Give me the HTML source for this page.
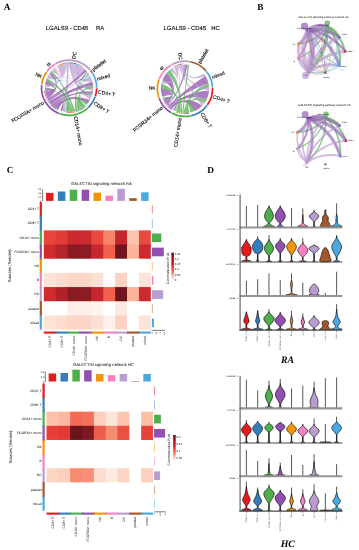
<!DOCTYPE html>
<html><head><meta charset="utf-8"><title>Figure</title>
<style>
html,body{margin:0;padding:0;background:#fff;}
body{width:359px;height:550px;overflow:hidden;position:relative;font-family:"Liberation Sans",sans-serif;}
svg{position:absolute;left:0;top:0;}
svg{text-rendering:geometricPrecision;}
svg text{font-family:"Liberation Sans",sans-serif;fill:#000;}
#panelA text{stroke:#000;stroke-width:0.1px;}
svg text.pl{font-family:"Liberation Serif",serif;font-weight:bold;fill:#000;}
svg text.gl{font-family:"Liberation Serif",serif;font-weight:bold;font-style:italic;fill:#000;}
</style></head><body>
<svg width="359" height="550" viewBox="0 0 359 550">
<rect width="359" height="550" fill="#fff"/>
<text class="pl" x="3.7" y="9.8" font-size="9.3">A</text>
<text class="pl" x="257.2" y="9.8" font-size="9.3">B</text>
<text class="pl" x="6.7" y="173" font-size="9.3">C</text>
<text class="pl" x="207.3" y="172.9" font-size="9.3">D</text>
<g id="panelA">
<text x="45.8" y="30.2" font-size="5.9">LGALS9 - CD45</text><text x="95.9" y="30.2" font-size="5.9">RA</text>
<text x="163.6" y="30.2" font-size="5.9">LGALS9 - CD45</text><text x="211.3" y="30.2" font-size="5.9">HC</text>
<path d="M60.24,65.28A24.20,24.20 0 0 1 64.57,64.03Q65.77,83.60 46.99,77.97A24.20,24.20 0 0 1 49.07,74.23Q65.49,83.29 60.24,65.28Z" fill="#b99dd0" fill-opacity="0.74"/>
<path d="M46.48,96.39A24.20,24.20 0 0 1 45.37,92.53Q63.13,88.01 45.10,84.73A24.20,24.20 0 0 1 46.01,80.54Q63.39,87.97 46.48,96.39Z" fill="#9150b0" fill-opacity="0.74"/>
<path d="M68.91,63.60A24.20,24.20 0 0 1 73.26,63.96Q72.46,85.85 91.84,96.08A24.20,24.20 0 0 1 90.10,99.82Q71.70,86.28 68.91,63.60Z" fill="#b99dd0" fill-opacity="0.74"/>
<path d="M75.99,64.60A24.20,24.20 0 0 1 80.04,66.21Q73.21,83.83 91.06,77.64A24.20,24.20 0 0 1 92.43,81.38Q72.88,84.10 75.99,64.60Z" fill="#b99dd0" fill-opacity="0.74"/>
<path d="M56.48,108.45A24.20,24.20 0 0 1 53.34,106.17Q69.74,91.62 89.99,100.02A24.20,24.20 0 0 1 87.61,103.39Q69.84,92.33 56.48,108.45Z" fill="#9150b0" fill-opacity="0.74"/>
<path d="M51.53,104.45A24.20,24.20 0 0 1 49.10,101.42Q69.52,88.73 92.49,81.60A24.20,24.20 0 0 1 93.19,85.52Q69.92,89.60 51.53,104.45Z" fill="#9150b0" fill-opacity="0.74"/>
<path d="M57.55,66.53A24.20,24.20 0 0 1 60.24,65.28Q65.87,82.83 52.12,70.56A24.20,24.20 0 0 1 53.93,68.95Q65.76,82.79 57.55,66.53Z" fill="#b99dd0" fill-opacity="0.74"/>
<path d="M47.54,98.80A24.20,24.20 0 0 1 46.48,96.39Q63.82,87.10 49.52,73.58A24.20,24.20 0 0 1 51.04,71.69Q64.15,87.16 47.54,98.80Z" fill="#9150b0" fill-opacity="0.74"/>
<path d="M73.26,63.96A24.20,24.20 0 0 1 75.99,64.60Q72.98,84.99 93.29,88.53A24.20,24.20 0 0 1 93.08,91.09Q72.62,85.23 73.26,63.96Z" fill="#b99dd0" fill-opacity="0.74"/>
<path d="M53.34,106.17A24.20,24.20 0 0 1 51.53,104.45Q69.90,90.31 93.06,91.23A24.20,24.20 0 0 1 92.56,93.75Q70.06,90.84 53.34,106.17Z" fill="#9150b0" fill-opacity="0.74"/>
<path d="M73.26,111.64A24.20,24.20 0 0 1 69.87,111.99Q66.31,89.92 46.01,80.54A24.20,24.20 0 0 1 46.86,78.25Q66.84,89.59 73.26,111.64Z" fill="#4daf4a" fill-opacity="0.74"/>
<path d="M85.29,105.78A24.20,24.20 0 0 1 82.70,107.82Q73.11,92.25 87.61,103.39A24.20,24.20 0 0 1 86.00,105.12Q73.24,92.21 85.29,105.78Z" fill="#4daf4a" fill-opacity="0.74"/>
<path d="M80.89,108.93A24.20,24.20 0 0 1 77.91,110.34Q73.21,90.33 93.19,85.52A24.20,24.20 0 0 1 93.30,87.80Q73.60,90.44 80.89,108.93Z" fill="#4daf4a" fill-opacity="0.74"/>
<path d="M66.58,63.73A24.20,24.20 0 0 1 68.91,63.60Q68.55,87.75 64.92,111.64A24.20,24.20 0 0 1 62.71,111.14Q67.99,87.71 66.58,63.73Z" fill="#b99dd0" fill-opacity="0.74"/>
<path d="M81.00,66.73A24.20,24.20 0 0 1 82.98,67.98Q72.59,82.86 83.15,68.10A24.20,24.20 0 0 1 84.94,69.50Q72.57,82.88 81.00,66.73Z" fill="#b99dd0" fill-opacity="0.74"/>
<path d="M58.30,109.46A24.20,24.20 0 0 1 56.48,108.45Q66.71,93.29 62.58,111.11A24.20,24.20 0 0 1 60.43,110.39Q66.67,93.33 58.30,109.46Z" fill="#9150b0" fill-opacity="0.74"/>
<path d="M48.57,100.61A24.20,24.20 0 0 1 47.54,98.80Q68.40,86.90 85.03,69.59A24.20,24.20 0 0 1 86.67,71.16Q68.73,87.32 48.57,100.61Z" fill="#9150b0" fill-opacity="0.74"/>
<path d="M64.57,64.03A24.20,24.20 0 0 1 66.58,63.73Q65.76,84.73 44.90,87.33A24.20,24.20 0 0 1 45.02,85.38Q65.52,84.53 64.57,64.03Z" fill="#b99dd0" fill-opacity="0.74"/>
<path d="M45.37,92.53A24.20,24.20 0 0 1 45.08,90.75Q63.09,88.51 45.06,90.54A24.20,24.20 0 0 1 44.91,88.59Q63.11,88.49 45.37,92.53Z" fill="#9150b0" fill-opacity="0.74"/>
<path d="M75.45,111.15A24.20,24.20 0 0 1 73.26,111.64Q67.36,88.77 51.04,71.69A24.20,24.20 0 0 1 51.99,70.68Q67.76,88.58 75.45,111.15Z" fill="#4daf4a" fill-opacity="0.74"/>
<path d="M82.70,107.82A24.20,24.20 0 0 1 80.89,108.93Q73.51,91.19 92.56,93.75A24.20,24.20 0 0 1 92.15,95.16Q73.68,91.22 82.70,107.82Z" fill="#4daf4a" fill-opacity="0.74"/>
<path d="M77.14,110.63A24.20,24.20 0 0 1 75.45,111.15Q72.09,88.64 86.67,71.16A24.20,24.20 0 0 1 87.53,72.12Q72.41,88.69 77.14,110.63Z" fill="#4daf4a" fill-opacity="0.74"/>
<path d="M68.33,111.99A24.20,24.20 0 0 1 66.57,111.87Q68.44,93.81 66.36,111.84A24.20,24.20 0 0 1 65.08,111.66Q68.50,93.81 68.33,111.99Z" fill="#4daf4a" fill-opacity="0.74"/>
<path d="M69.87,111.99A24.20,24.20 0 0 1 68.33,111.99Q65.98,90.92 44.91,88.59A24.20,24.20 0 0 1 44.90,87.47Q66.17,90.78 69.87,111.99Z" fill="#4daf4a" fill-opacity="0.74"/>
<path d="M80.04,66.21A24.20,24.20 0 0 1 81.00,66.73Q72.95,83.27 87.99,72.67A24.20,24.20 0 0 1 88.50,73.34Q72.89,83.29 80.04,66.21Z" fill="#b99dd0" fill-opacity="0.74"/>
<path d="M49.10,101.42A24.20,24.20 0 0 1 48.57,100.61Q68.96,87.60 88.53,73.38A24.20,24.20 0 0 1 89.02,74.06Q69.09,87.79 49.10,101.42Z" fill="#9150b0" fill-opacity="0.74"/>
<path d="M77.91,110.34A24.20,24.20 0 0 1 77.14,110.63Q72.59,88.94 89.02,74.06A24.20,24.20 0 0 1 89.29,74.46Q72.73,88.95 77.91,110.34Z" fill="#4daf4a" fill-opacity="0.74"/>
<path d="M90.18,75.91A24.20,24.20 0 0 1 90.33,76.19Q68.97,85.15 46.86,78.25A24.20,24.20 0 0 1 46.99,77.97Q68.97,85.08 90.18,75.91Z" fill="#4ca9e0" fill-opacity="0.74"/>
<path d="M90.48,76.46A24.20,24.20 0 0 1 90.62,76.74Q74.65,87.42 91.94,95.80A24.20,24.20 0 0 1 91.84,96.08Q74.62,87.42 90.48,76.46Z" fill="#4ca9e0" fill-opacity="0.74"/>
<path d="M90.71,76.91A24.20,24.20 0 0 1 90.85,77.19Q74.55,85.17 90.94,77.38A24.20,24.20 0 0 1 91.06,77.64Q74.55,85.17 90.71,76.91Z" fill="#4ca9e0" fill-opacity="0.74"/>
<path d="M54.35,68.62A24.20,24.20 0 0 1 54.58,68.44Q64.78,83.68 49.07,74.23A24.20,24.20 0 0 1 49.20,74.02Q64.77,83.68 54.35,68.62Z" fill="#f781bf" fill-opacity="0.74"/>
<path d="M54.80,68.28A24.20,24.20 0 0 1 55.02,68.12Q69.97,86.84 90.10,99.82A24.20,24.20 0 0 1 89.99,100.02Q69.92,86.89 54.80,68.28Z" fill="#f781bf" fill-opacity="0.74"/>
<path d="M55.16,68.02A24.20,24.20 0 0 1 55.39,67.86Q70.30,84.51 92.43,81.38A24.20,24.20 0 0 1 92.49,81.60Q70.28,84.55 55.16,68.02Z" fill="#f781bf" fill-opacity="0.74"/>
<path d="M90.07,75.73A24.20,24.20 0 0 1 90.18,75.91Q69.60,84.17 51.99,70.68A24.20,24.20 0 0 1 52.12,70.56Q69.60,84.14 90.07,75.73Z" fill="#4ca9e0" fill-opacity="0.74"/>
<path d="M90.62,76.74A24.20,24.20 0 0 1 90.71,76.91Q74.83,86.51 93.29,88.35A24.20,24.20 0 0 1 93.29,88.53Q74.81,86.51 90.62,76.74Z" fill="#4ca9e0" fill-opacity="0.74"/>
<path d="M54.20,68.73A24.20,24.20 0 0 1 54.35,68.62Q65.36,83.05 53.93,68.95A24.20,24.20 0 0 1 54.04,68.86Q65.35,83.05 54.20,68.73Z" fill="#f781bf" fill-opacity="0.74"/>
<path d="M89.99,75.58A24.20,24.20 0 0 1 90.07,75.73Q74.03,84.33 87.53,72.12A24.20,24.20 0 0 1 87.64,72.24Q74.03,84.33 89.99,75.58Z" fill="#4ca9e0" fill-opacity="0.74"/>
<path d="M90.40,76.32A24.20,24.20 0 0 1 90.48,76.46Q71.27,89.37 65.08,111.66A24.20,24.20 0 0 1 64.92,111.64Q71.24,89.34 90.40,76.32Z" fill="#4ca9e0" fill-opacity="0.74"/>
<path d="M55.02,68.12A24.20,24.20 0 0 1 55.16,68.02Q70.35,85.74 93.08,91.09A24.20,24.20 0 0 1 93.06,91.23Q70.33,85.77 55.02,68.12Z" fill="#f781bf" fill-opacity="0.74"/>
<path d="M90.33,76.19A24.20,24.20 0 0 1 90.40,76.32Q68.74,86.32 44.90,87.47A24.20,24.20 0 0 1 44.90,87.33Q68.73,86.29 90.33,76.19Z" fill="#4ca9e0" fill-opacity="0.74"/>
<path d="M54.68,68.37A24.20,24.20 0 0 1 54.80,68.28Q66.51,88.28 62.71,111.14A24.20,24.20 0 0 1 62.58,111.11Q66.48,88.28 54.68,68.37Z" fill="#f781bf" fill-opacity="0.74"/>
<path d="M55.45,67.82A24.20,24.20 0 0 1 55.57,67.74Q69.39,83.00 84.94,69.50A24.20,24.20 0 0 1 85.03,69.59Q69.38,83.03 55.45,67.82Z" fill="#f781bf" fill-opacity="0.74"/>
<path d="M54.58,68.44A24.20,24.20 0 0 1 54.68,68.37Q64.29,85.07 45.02,85.38A24.20,24.20 0 0 1 45.03,85.27Q64.28,85.06 54.58,68.44Z" fill="#f781bf" fill-opacity="0.74"/>
<path d="M89.95,75.52A24.20,24.20 0 0 1 89.99,75.58Q74.24,84.61 89.29,74.46A24.20,24.20 0 0 1 89.33,74.51Q74.23,84.60 89.95,75.52Z" fill="#4ca9e0" fill-opacity="0.74"/>
<path d="M55.39,67.86A24.20,24.20 0 0 1 55.45,67.82Q69.82,83.49 88.50,73.34A24.20,24.20 0 0 1 88.53,73.38Q69.82,83.50 55.39,67.86Z" fill="#f781bf" fill-opacity="0.74"/>
<path d="M57.36,65.90A24.85,24.85 0 0 1 59.88,64.72" fill="none" stroke="#f781bf" stroke-width="1.0"/>
<path d="M60.12,64.63A24.85,24.85 0 0 1 64.32,63.41" fill="none" stroke="#f29403" stroke-width="1.0"/>
<path d="M64.58,63.36A24.85,24.85 0 0 1 66.38,63.10" fill="none" stroke="#9150b0" stroke-width="1.0"/>
<path d="M66.64,63.07A24.85,24.85 0 0 1 68.78,62.95" fill="none" stroke="#4daf4a" stroke-width="1.0"/>
<path d="M69.04,62.95A24.85,24.85 0 0 1 73.24,63.30" fill="none" stroke="#377eb8" stroke-width="1.0"/>
<path d="M73.50,63.34A24.85,24.85 0 0 1 76.05,63.94" fill="none" stroke="#e41a1c" stroke-width="1.0"/>
<path d="M76.30,64.02A24.85,24.85 0 0 1 80.22,65.58" fill="none" stroke="#4ca9e0" stroke-width="1.0"/>
<path d="M80.45,65.69A24.85,24.85 0 0 1 81.21,66.10" fill="none" stroke="#a65628" stroke-width="1.0"/>
<path d="M81.44,66.23A24.85,24.85 0 0 1 83.25,67.37" fill="none" stroke="#b99dd0" stroke-width="1.0"/>
<path d="M57.90,109.98A24.85,24.85 0 0 1 56.25,109.07" fill="none" stroke="#4daf4a" stroke-width="1.0"/>
<path d="M56.03,108.94A24.85,24.85 0 0 1 53.02,106.75" fill="none" stroke="#377eb8" stroke-width="1.0"/>
<path d="M52.82,106.58A24.85,24.85 0 0 1 51.15,104.99" fill="none" stroke="#e41a1c" stroke-width="1.0"/>
<path d="M50.97,104.80A24.85,24.85 0 0 1 48.64,101.90" fill="none" stroke="#4ca9e0" stroke-width="1.0"/>
<path d="M48.49,101.68A24.85,24.85 0 0 1 48.09,101.07" fill="none" stroke="#a65628" stroke-width="1.0"/>
<path d="M47.95,100.85A24.85,24.85 0 0 1 47.03,99.21" fill="none" stroke="#b99dd0" stroke-width="1.0"/>
<path d="M46.91,98.98A24.85,24.85 0 0 1 45.92,96.74" fill="none" stroke="#f781bf" stroke-width="1.0"/>
<path d="M45.82,96.50A24.85,24.85 0 0 1 44.75,92.78" fill="none" stroke="#f29403" stroke-width="1.0"/>
<path d="M44.70,92.53A24.85,24.85 0 0 1 44.45,90.96" fill="none" stroke="#9150b0" stroke-width="1.0"/>
<path d="M85.63,106.35A24.85,24.85 0 0 1 83.17,108.28" fill="none" stroke="#377eb8" stroke-width="1.0"/>
<path d="M82.95,108.43A24.85,24.85 0 0 1 81.32,109.44" fill="none" stroke="#e41a1c" stroke-width="1.0"/>
<path d="M81.10,109.56A24.85,24.85 0 0 1 78.27,110.90" fill="none" stroke="#4ca9e0" stroke-width="1.0"/>
<path d="M78.03,110.99A24.85,24.85 0 0 1 77.47,111.20" fill="none" stroke="#a65628" stroke-width="1.0"/>
<path d="M77.23,111.28A24.85,24.85 0 0 1 75.74,111.75" fill="none" stroke="#b99dd0" stroke-width="1.0"/>
<path d="M75.49,111.81A24.85,24.85 0 0 1 73.50,112.26" fill="none" stroke="#f781bf" stroke-width="1.0"/>
<path d="M73.25,112.30A24.85,24.85 0 0 1 70.02,112.63" fill="none" stroke="#f29403" stroke-width="1.0"/>
<path d="M69.76,112.64A24.85,24.85 0 0 1 68.44,112.64" fill="none" stroke="#9150b0" stroke-width="1.0"/>
<path d="M68.18,112.63A24.85,24.85 0 0 1 66.63,112.53" fill="none" stroke="#4daf4a" stroke-width="1.0"/>
<path d="M53.90,68.14A24.85,24.85 0 0 1 53.91,68.14" fill="none" stroke="#f781bf" stroke-width="1.0"/>
<path d="M54.06,68.02A24.85,24.85 0 0 1 54.08,68.00" fill="none" stroke="#f29403" stroke-width="1.0"/>
<path d="M54.29,67.85A24.85,24.85 0 0 1 54.29,67.84" fill="none" stroke="#9150b0" stroke-width="1.0"/>
<path d="M54.39,67.77A24.85,24.85 0 0 1 54.40,67.77" fill="none" stroke="#4daf4a" stroke-width="1.0"/>
<path d="M54.52,67.68A24.85,24.85 0 0 1 54.54,67.67" fill="none" stroke="#377eb8" stroke-width="1.0"/>
<path d="M54.75,67.51A24.85,24.85 0 0 1 54.75,67.51" fill="none" stroke="#e41a1c" stroke-width="1.0"/>
<path d="M54.90,67.41A24.85,24.85 0 0 1 54.91,67.40" fill="none" stroke="#4ca9e0" stroke-width="1.0"/>
<path d="M55.13,67.25A24.85,24.85 0 0 1 55.13,67.25" fill="none" stroke="#a65628" stroke-width="1.0"/>
<path d="M55.19,67.21A24.85,24.85 0 0 1 55.19,67.21" fill="none" stroke="#b99dd0" stroke-width="1.0"/>
<path d="M90.58,75.30A24.85,24.85 0 0 1 90.58,75.30" fill="none" stroke="#a65628" stroke-width="1.0"/>
<path d="M90.62,75.37A24.85,24.85 0 0 1 90.62,75.37" fill="none" stroke="#b99dd0" stroke-width="1.0"/>
<path d="M90.70,75.52A24.85,24.85 0 0 1 90.70,75.52" fill="none" stroke="#f781bf" stroke-width="1.0"/>
<path d="M90.81,75.70A24.85,24.85 0 0 1 90.84,75.76" fill="none" stroke="#f29403" stroke-width="1.0"/>
<path d="M90.97,75.99A24.85,24.85 0 0 1 90.97,76.00" fill="none" stroke="#9150b0" stroke-width="1.0"/>
<path d="M91.04,76.12A24.85,24.85 0 0 1 91.04,76.13" fill="none" stroke="#4daf4a" stroke-width="1.0"/>
<path d="M91.11,76.27A24.85,24.85 0 0 1 91.14,76.32" fill="none" stroke="#377eb8" stroke-width="1.0"/>
<path d="M91.26,76.56A24.85,24.85 0 0 1 91.26,76.56" fill="none" stroke="#e41a1c" stroke-width="1.0"/>
<path d="M91.35,76.74A24.85,24.85 0 0 1 91.38,76.79" fill="none" stroke="#4ca9e0" stroke-width="1.0"/>
<path d="M55.51,63.78A27.60,27.60 0 0 1 90.24,70.06" fill="none" stroke="#b99dd0" stroke-width="1.7"/>
<path d="M90.55,70.43A27.60,27.60 0 0 1 92.25,72.77" fill="none" stroke="#a65628" stroke-width="1.7"/>
<path d="M92.51,73.17A27.60,27.60 0 0 1 96.70,87.80" fill="none" stroke="#4ca9e0" stroke-width="1.7"/>
<path d="M96.70,88.28A27.60,27.60 0 0 1 95.35,96.33" fill="none" stroke="#e41a1c" stroke-width="1.7"/>
<path d="M95.20,96.79A27.60,27.60 0 0 1 88.27,107.65" fill="none" stroke="#377eb8" stroke-width="1.7"/>
<path d="M87.92,107.99A27.60,27.60 0 0 1 59.21,113.57" fill="none" stroke="#4daf4a" stroke-width="1.7"/>
<path d="M58.76,113.39A27.60,27.60 0 0 1 41.65,84.92" fill="none" stroke="#9150b0" stroke-width="1.7"/>
<path d="M41.71,84.44A27.60,27.60 0 0 1 46.49,71.97" fill="none" stroke="#f29403" stroke-width="1.7"/>
<path d="M46.77,71.58A27.60,27.60 0 0 1 55.09,64.02" fill="none" stroke="#f781bf" stroke-width="1.7"/>
<text x="74.31" y="58.97" font-size="5.0" text-anchor="start" dominant-baseline="central" transform="rotate(-79.8 74.31 58.97)">DC</text>
<text x="92.80" y="70.58" font-size="5.0" text-anchor="start" dominant-baseline="central" transform="rotate(-36.0 92.80 70.58)">platelet</text>
<text x="97.26" y="79.72" font-size="5.0" text-anchor="start" dominant-baseline="central" transform="rotate(-16.0 97.26 79.72)">mixed</text>
<text x="98.00" y="92.64" font-size="5.0" text-anchor="start" dominant-baseline="central" transform="rotate(9.5 98.00 92.64)">CD4+ T</text>
<text x="93.81" y="103.54" font-size="5.0" text-anchor="start" dominant-baseline="central" transform="rotate(32.5 93.81 103.54)">CD8+ T</text>
<text x="74.69" y="116.56" font-size="5.0" text-anchor="start" dominant-baseline="central" transform="rotate(79.0 74.69 116.56)">CD14+ mono</text>
<text x="43.98" y="102.89" font-size="5.0" text-anchor="end" dominant-baseline="central" transform="rotate(-31.0 43.98 102.89)">FCGR3A+ mono</text>
<text x="41.75" y="77.30" font-size="5.0" text-anchor="end" dominant-baseline="central" transform="rotate(21.0 41.75 77.30)">NK</text>
<text x="49.40" y="66.11" font-size="5.0" text-anchor="end" dominant-baseline="central" transform="rotate(47.8 49.40 66.11)">B</text>
<path d="M167.10,105.08A24.20,24.20 0 0 1 165.98,103.77Q179.80,89.60 162.38,80.21A24.20,24.20 0 0 1 167.06,72.56Q180.52,88.80 167.10,105.08Z" fill="#9150b0" fill-opacity="0.74"/>
<path d="M171.56,108.92A24.20,24.20 0 0 1 170.23,107.97Q185.32,93.31 202.33,105.69A24.20,24.20 0 0 1 194.89,110.89Q184.56,94.08 171.56,108.92Z" fill="#9150b0" fill-opacity="0.74"/>
<path d="M170.23,107.97A24.20,24.20 0 0 1 168.96,106.92Q186.01,91.32 209.11,90.87A24.20,24.20 0 0 1 206.85,99.19Q185.89,92.49 170.23,107.97Z" fill="#9150b0" fill-opacity="0.74"/>
<path d="M165.98,103.77A24.20,24.20 0 0 1 165.02,102.45Q179.64,91.48 162.08,96.56A24.20,24.20 0 0 1 160.82,87.91Q179.60,90.56 165.98,103.77Z" fill="#9150b0" fill-opacity="0.74"/>
<path d="M168.96,106.92A24.20,24.20 0 0 1 167.83,105.85Q185.39,89.29 205.33,75.67A24.20,24.20 0 0 1 208.56,83.29Q185.94,90.38 168.96,106.92Z" fill="#9150b0" fill-opacity="0.74"/>
<path d="M167.83,105.85A24.20,24.20 0 0 1 167.10,105.08Q182.75,87.81 184.88,64.60A24.20,24.20 0 0 1 187.77,64.76Q183.20,87.93 167.83,105.85Z" fill="#9150b0" fill-opacity="0.74"/>
<path d="M165.02,102.45A24.20,24.20 0 0 1 164.48,101.62Q179.86,91.98 164.37,101.44A24.20,24.20 0 0 1 163.10,99.10Q179.76,91.79 165.02,102.45Z" fill="#9150b0" fill-opacity="0.74"/>
<path d="M182.19,112.84A24.20,24.20 0 0 1 180.17,112.51Q182.15,89.73 167.06,72.56A24.20,24.20 0 0 1 170.38,69.51Q182.82,89.39 182.19,112.84Z" fill="#4daf4a" fill-opacity="0.74"/>
<path d="M189.20,112.63A24.20,24.20 0 0 1 187.27,112.89Q186.52,94.57 194.89,110.89A24.20,24.20 0 0 1 190.57,112.35Q186.22,94.72 189.20,112.63Z" fill="#4daf4a" fill-opacity="0.74"/>
<path d="M187.27,112.89A24.20,24.20 0 0 1 185.32,113.00Q187.77,93.12 206.85,99.19A24.20,24.20 0 0 1 204.65,102.92Q187.74,93.58 187.27,112.89Z" fill="#4daf4a" fill-opacity="0.74"/>
<path d="M180.17,112.51A24.20,24.20 0 0 1 178.27,112.05Q181.14,91.59 160.82,87.91A24.20,24.20 0 0 1 161.37,83.56Q181.44,91.11 180.17,112.51Z" fill="#4daf4a" fill-opacity="0.74"/>
<path d="M185.32,113.00A24.20,24.20 0 0 1 183.46,112.95Q187.75,91.13 208.56,83.29A24.20,24.20 0 0 1 209.16,87.41Q188.06,91.65 185.32,113.00Z" fill="#4daf4a" fill-opacity="0.74"/>
<path d="M172.18,109.32A24.20,24.20 0 0 1 171.56,108.92Q182.05,94.06 174.82,110.75A24.20,24.20 0 0 1 173.27,109.97Q181.93,94.01 172.18,109.32Z" fill="#9150b0" fill-opacity="0.74"/>
<path d="M174.01,67.24A24.20,24.20 0 0 1 175.45,66.56Q181.98,83.61 170.38,69.51A24.20,24.20 0 0 1 172.79,67.91Q182.10,83.49 174.01,67.24Z" fill="#b99dd0" fill-opacity="0.74"/>
<path d="M183.46,112.95A24.20,24.20 0 0 1 182.19,112.84Q185.00,88.80 187.77,64.76A24.20,24.20 0 0 1 189.20,64.97Q185.33,88.84 183.46,112.95Z" fill="#4daf4a" fill-opacity="0.74"/>
<path d="M175.45,66.56A24.20,24.20 0 0 1 176.86,66.01Q181.03,85.30 161.37,83.56A24.20,24.20 0 0 1 162.15,80.84Q180.95,85.03 175.45,66.56Z" fill="#b99dd0" fill-opacity="0.74"/>
<path d="M178.37,65.53A24.20,24.20 0 0 1 179.84,65.16Q186.76,87.68 204.25,103.46A24.20,24.20 0 0 1 202.33,105.69Q186.34,88.00 178.37,65.53Z" fill="#b99dd0" fill-opacity="0.74"/>
<path d="M179.84,65.16A24.20,24.20 0 0 1 181.33,64.88Q187.56,85.72 209.19,88.08A24.20,24.20 0 0 1 209.11,90.87Q187.37,86.10 179.84,65.16Z" fill="#b99dd0" fill-opacity="0.74"/>
<path d="M181.33,64.88A24.20,24.20 0 0 1 182.75,64.70Q187.06,83.88 203.75,73.50A24.20,24.20 0 0 1 205.33,75.67Q187.08,84.17 181.33,64.88Z" fill="#b99dd0" fill-opacity="0.74"/>
<path d="M178.27,112.05A24.20,24.20 0 0 1 177.15,111.69Q181.28,92.95 163.10,99.10A24.20,24.20 0 0 1 162.57,97.88Q181.35,92.84 178.27,112.05Z" fill="#4daf4a" fill-opacity="0.74"/>
<path d="M177.15,111.69A24.20,24.20 0 0 1 176.33,111.39Q182.81,94.44 176.13,111.32A24.20,24.20 0 0 1 175.33,110.98Q182.81,94.43 177.15,111.69Z" fill="#4daf4a" fill-opacity="0.74"/>
<path d="M182.75,64.70A24.20,24.20 0 0 1 183.73,64.63Q184.71,82.76 183.94,64.62A24.20,24.20 0 0 1 184.88,64.60Q184.70,82.76 182.75,64.70Z" fill="#b99dd0" fill-opacity="0.74"/>
<path d="M176.86,66.01A24.20,24.20 0 0 1 177.72,65.72Q181.29,87.05 162.57,97.88A24.20,24.20 0 0 1 162.26,97.08Q181.14,86.99 176.86,66.01Z" fill="#b99dd0" fill-opacity="0.74"/>
<path d="M177.72,65.72A24.20,24.20 0 0 1 178.37,65.53Q182.96,88.66 175.33,110.98A24.20,24.20 0 0 1 174.82,110.75Q182.82,88.66 177.72,65.72Z" fill="#b99dd0" fill-opacity="0.74"/>
<path d="M173.83,66.60A24.85,24.85 0 0 1 175.08,66.02" fill="none" stroke="#f781bf" stroke-width="1.0"/>
<path d="M175.31,65.92A24.85,24.85 0 0 1 176.52,65.44" fill="none" stroke="#f29403" stroke-width="1.0"/>
<path d="M176.76,65.35A24.85,24.85 0 0 1 177.40,65.14" fill="none" stroke="#9150b0" stroke-width="1.0"/>
<path d="M177.65,65.06A24.85,24.85 0 0 1 178.07,64.94" fill="none" stroke="#4daf4a" stroke-width="1.0"/>
<path d="M178.32,64.86A24.85,24.85 0 0 1 179.57,64.55" fill="none" stroke="#377eb8" stroke-width="1.0"/>
<path d="M179.83,64.49A24.85,24.85 0 0 1 181.10,64.26" fill="none" stroke="#e41a1c" stroke-width="1.0"/>
<path d="M181.36,64.22A24.85,24.85 0 0 1 182.56,64.07" fill="none" stroke="#4ca9e0" stroke-width="1.0"/>
<path d="M182.82,64.05A24.85,24.85 0 0 1 183.57,63.99" fill="none" stroke="#b99dd0" stroke-width="1.0"/>
<path d="M171.72,109.80A24.85,24.85 0 0 1 171.30,109.53" fill="none" stroke="#4daf4a" stroke-width="1.0"/>
<path d="M171.09,109.39A24.85,24.85 0 0 1 169.93,108.56" fill="none" stroke="#377eb8" stroke-width="1.0"/>
<path d="M169.73,108.40A24.85,24.85 0 0 1 168.63,107.50" fill="none" stroke="#e41a1c" stroke-width="1.0"/>
<path d="M168.43,107.32A24.85,24.85 0 0 1 167.46,106.40" fill="none" stroke="#4ca9e0" stroke-width="1.0"/>
<path d="M167.28,106.22A24.85,24.85 0 0 1 166.70,105.62" fill="none" stroke="#b99dd0" stroke-width="1.0"/>
<path d="M166.53,105.42A24.85,24.85 0 0 1 165.55,104.27" fill="none" stroke="#f781bf" stroke-width="1.0"/>
<path d="M165.39,104.07A24.85,24.85 0 0 1 164.55,102.92" fill="none" stroke="#f29403" stroke-width="1.0"/>
<path d="M164.41,102.71A24.85,24.85 0 0 1 164.00,102.08" fill="none" stroke="#9150b0" stroke-width="1.0"/>
<path d="M189.19,113.29A24.85,24.85 0 0 1 187.46,113.53" fill="none" stroke="#377eb8" stroke-width="1.0"/>
<path d="M187.20,113.55A24.85,24.85 0 0 1 185.45,113.65" fill="none" stroke="#e41a1c" stroke-width="1.0"/>
<path d="M185.19,113.65A24.85,24.85 0 0 1 183.55,113.61" fill="none" stroke="#4ca9e0" stroke-width="1.0"/>
<path d="M183.29,113.59A24.85,24.85 0 0 1 182.25,113.50" fill="none" stroke="#b99dd0" stroke-width="1.0"/>
<path d="M181.99,113.47A24.85,24.85 0 0 1 180.17,113.18" fill="none" stroke="#f781bf" stroke-width="1.0"/>
<path d="M179.91,113.12A24.85,24.85 0 0 1 178.22,112.71" fill="none" stroke="#f29403" stroke-width="1.0"/>
<path d="M177.97,112.63A24.85,24.85 0 0 1 177.07,112.35" fill="none" stroke="#9150b0" stroke-width="1.0"/>
<path d="M176.82,112.27A24.85,24.85 0 0 1 176.22,112.05" fill="none" stroke="#4daf4a" stroke-width="1.0"/>
<path d="M171.62,64.66A27.60,27.60 0 0 1 189.79,61.62" fill="none" stroke="#b99dd0" stroke-width="1.7"/>
<path d="M190.27,61.71A27.60,27.60 0 0 1 205.99,70.88" fill="none" stroke="#a65628" stroke-width="1.7"/>
<path d="M206.30,71.24A27.60,27.60 0 0 1 212.56,87.36" fill="none" stroke="#4ca9e0" stroke-width="1.7"/>
<path d="M212.58,87.84A27.60,27.60 0 0 1 207.33,105.02" fill="none" stroke="#e41a1c" stroke-width="1.7"/>
<path d="M207.04,105.41A27.60,27.60 0 0 1 191.21,115.69" fill="none" stroke="#377eb8" stroke-width="1.7"/>
<path d="M190.74,115.80A27.60,27.60 0 0 1 171.62,112.94" fill="none" stroke="#4daf4a" stroke-width="1.7"/>
<path d="M171.20,112.70A27.60,27.60 0 0 1 159.06,98.24" fill="none" stroke="#9150b0" stroke-width="1.7"/>
<path d="M158.90,97.79A27.60,27.60 0 0 1 158.98,79.59" fill="none" stroke="#f29403" stroke-width="1.7"/>
<path d="M159.15,79.13A27.60,27.60 0 0 1 171.20,64.90" fill="none" stroke="#f781bf" stroke-width="1.7"/>
<text x="180.16" y="59.90" font-size="5.0" text-anchor="end" dominant-baseline="central" transform="rotate(80.5 180.16 59.90)">DC</text>
<text x="199.76" y="63.49" font-size="5.0" text-anchor="start" dominant-baseline="central" transform="rotate(-59.8 199.76 63.49)">platelet</text>
<text x="212.31" y="78.18" font-size="5.0" text-anchor="start" dominant-baseline="central" transform="rotate(-21.2 212.31 78.18)">mixed</text>
<text x="213.02" y="97.37" font-size="5.0" text-anchor="start" dominant-baseline="central" transform="rotate(17.0 213.02 97.37)">CD4+ T</text>
<text x="200.96" y="113.37" font-size="5.0" text-anchor="start" dominant-baseline="central" transform="rotate(57.0 200.96 113.37)">CD8+ T</text>
<text x="180.67" y="117.78" font-size="5.0" text-anchor="end" dominant-baseline="central" transform="rotate(-81.5 180.67 117.78)">CD14+ mono</text>
<text x="162.55" y="107.63" font-size="5.0" text-anchor="end" dominant-baseline="central" transform="rotate(-40.0 162.55 107.63)">FCGR3A+ mono</text>
<text x="155.70" y="88.67" font-size="5.0" text-anchor="end" dominant-baseline="central" transform="rotate(0.2 155.70 88.67)">NK</text>
<text x="162.64" y="69.87" font-size="5.0" text-anchor="end" dominant-baseline="central" transform="rotate(40.2 162.64 69.87)">B</text>
</g>
<g id="panelB">
<g>
<text x="323.6" y="18.2" font-size="2.7" text-anchor="middle">GALECTIN signaling pathway network  RA</text>
<circle cx="304.6" cy="26.2" r="1.9" fill="none" stroke="#9060b4" stroke-opacity="0.7" stroke-width="3.6"/>
<circle cx="327.3" cy="23.0" r="1.3" fill="none" stroke="#4daf4a" stroke-opacity="0.7" stroke-width="2.9"/>
<circle cx="305.6" cy="75.4" r="1.9" fill="none" stroke="#b99dd0" stroke-opacity="0.7" stroke-width="3.6"/>
<circle cx="342.3" cy="68.4" r="2.2" fill="none" stroke="#4ca9e0" stroke-opacity="0.7" stroke-width="0.4"/>
<path d="M326.9,26.4Q341.5,34.9 345.2,51.4" fill="none" stroke="#4daf4a" stroke-opacity="0.66" stroke-width="2.08" stroke-linecap="round"/>
<path d="M326.9,26.4Q335.4,29.1 339.2,37.3" fill="none" stroke="#4daf4a" stroke-opacity="0.66" stroke-width="2.47" stroke-linecap="round"/>
<path d="M326.9,26.4Q318.0,32.6 307.5,30.2" fill="none" stroke="#4daf4a" stroke-opacity="0.66" stroke-width="3.12" stroke-linecap="round"/>
<path d="M326.9,26.4Q316.5,41.5 298.4,44.0" fill="none" stroke="#4daf4a" stroke-opacity="0.66" stroke-width="1.95" stroke-linecap="round"/>
<path d="M326.9,26.4Q319.5,48.8 298.0,58.5" fill="none" stroke="#4daf4a" stroke-opacity="0.66" stroke-width="1.3" stroke-linecap="round"/>
<path d="M326.9,26.4Q327.8,53.2 308.6,71.9" fill="none" stroke="#4daf4a" stroke-opacity="0.66" stroke-width="3.51" stroke-linecap="round"/>
<path d="M326.9,26.4Q336.4,50.0 325.4,73.0" fill="none" stroke="#4daf4a" stroke-opacity="0.66" stroke-width="0.65" stroke-linecap="round"/>
<path d="M326.9,26.4Q341.9,43.2 339.6,65.6" fill="none" stroke="#4daf4a" stroke-opacity="0.66" stroke-width="2.21" stroke-linecap="round"/>
<path d="M307.5,30.2Q331.0,32.5 345.2,51.4" fill="none" stroke="#9060b4" stroke-opacity="0.66" stroke-width="2.64" stroke-linecap="round"/>
<path d="M307.5,30.2Q324.9,26.8 339.2,37.3" fill="none" stroke="#9060b4" stroke-opacity="0.66" stroke-width="3.13" stroke-linecap="round"/>
<path d="M307.5,30.2Q316.4,24.0 326.9,26.4" fill="none" stroke="#9060b4" stroke-opacity="0.66" stroke-width="3.96" stroke-linecap="round"/>
<path d="M307.5,30.2Q306.0,39.1 298.4,44.0" fill="none" stroke="#9060b4" stroke-opacity="0.66" stroke-width="2.47" stroke-linecap="round"/>
<path d="M307.5,30.2Q309.0,46.4 298.0,58.5" fill="none" stroke="#9060b4" stroke-opacity="0.66" stroke-width="1.65" stroke-linecap="round"/>
<path d="M307.5,30.2Q317.2,50.8 308.6,71.9" fill="none" stroke="#9060b4" stroke-opacity="0.66" stroke-width="4.46" stroke-linecap="round"/>
<path d="M307.5,30.2Q325.9,47.7 325.4,73.0" fill="none" stroke="#9060b4" stroke-opacity="0.66" stroke-width="0.82" stroke-linecap="round"/>
<path d="M307.5,30.2Q331.3,40.8 339.6,65.6" fill="none" stroke="#9060b4" stroke-opacity="0.66" stroke-width="2.8" stroke-linecap="round"/>
<path d="M298.0,58.5Q320.0,44.6 345.2,51.4" fill="none" stroke="#f781bf" stroke-opacity="0.95" stroke-width="0.32" stroke-linecap="round"/>
<path d="M298.0,58.5Q313.9,38.8 339.2,37.3" fill="none" stroke="#f781bf" stroke-opacity="0.95" stroke-width="0.38" stroke-linecap="round"/>
<path d="M298.0,58.5Q305.4,36.1 326.9,26.4" fill="none" stroke="#f781bf" stroke-opacity="0.95" stroke-width="0.48" stroke-linecap="round"/>
<path d="M298.0,58.5Q296.5,42.3 307.5,30.2" fill="none" stroke="#f781bf" stroke-opacity="0.95" stroke-width="0.48" stroke-linecap="round"/>
<path d="M298.0,58.5Q295.0,51.2 298.4,44.0" fill="none" stroke="#f781bf" stroke-opacity="0.95" stroke-width="0.3" stroke-linecap="round"/>
<path d="M298.0,58.5Q306.2,62.9 308.6,71.9" fill="none" stroke="#f781bf" stroke-opacity="0.95" stroke-width="0.54" stroke-linecap="round"/>
<path d="M298.0,58.5Q314.9,59.7 325.4,73.0" fill="none" stroke="#f781bf" stroke-opacity="0.95" stroke-width="0.1" stroke-linecap="round"/>
<path d="M298.0,58.5Q320.4,52.9 339.6,65.6" fill="none" stroke="#f781bf" stroke-opacity="0.95" stroke-width="0.34" stroke-linecap="round"/>
<path d="M308.6,71.9Q322.4,53.6 345.2,51.4" fill="none" stroke="#b99dd0" stroke-opacity="0.66" stroke-width="2.64" stroke-linecap="round"/>
<path d="M308.6,71.9Q316.3,47.9 339.2,37.3" fill="none" stroke="#b99dd0" stroke-opacity="0.66" stroke-width="3.13" stroke-linecap="round"/>
<path d="M308.6,71.9Q307.7,45.1 326.9,26.4" fill="none" stroke="#b99dd0" stroke-opacity="0.66" stroke-width="3.96" stroke-linecap="round"/>
<path d="M308.6,71.9Q298.9,51.3 307.5,30.2" fill="none" stroke="#b99dd0" stroke-opacity="0.66" stroke-width="3.96" stroke-linecap="round"/>
<path d="M308.6,71.9Q297.4,60.2 298.4,44.0" fill="none" stroke="#b99dd0" stroke-opacity="0.66" stroke-width="2.47" stroke-linecap="round"/>
<path d="M308.6,71.9Q300.4,67.5 298.0,58.5" fill="none" stroke="#b99dd0" stroke-opacity="0.66" stroke-width="1.65" stroke-linecap="round"/>
<path d="M308.6,71.9Q317.2,68.8 325.4,73.0" fill="none" stroke="#b99dd0" stroke-opacity="0.66" stroke-width="0.82" stroke-linecap="round"/>
<path d="M308.6,71.9Q322.7,61.9 339.6,65.6" fill="none" stroke="#b99dd0" stroke-opacity="0.66" stroke-width="2.8" stroke-linecap="round"/>
<path d="M325.4,73.0Q330.5,57.8 345.2,51.4" fill="none" stroke="#a65628" stroke-opacity="0.95" stroke-width="0.24" stroke-linecap="round"/>
<path d="M325.4,73.0Q324.4,52.1 339.2,37.3" fill="none" stroke="#a65628" stroke-opacity="0.95" stroke-width="0.28" stroke-linecap="round"/>
<path d="M325.4,73.0Q315.9,49.4 326.9,26.4" fill="none" stroke="#a65628" stroke-opacity="0.95" stroke-width="0.36" stroke-linecap="round"/>
<path d="M325.4,73.0Q307.0,55.5 307.5,30.2" fill="none" stroke="#a65628" stroke-opacity="0.95" stroke-width="0.36" stroke-linecap="round"/>
<path d="M325.4,73.0Q305.5,64.4 298.4,44.0" fill="none" stroke="#a65628" stroke-opacity="0.95" stroke-width="0.22" stroke-linecap="round"/>
<path d="M325.4,73.0Q308.5,71.8 298.0,58.5" fill="none" stroke="#a65628" stroke-opacity="0.95" stroke-width="0.15" stroke-linecap="round"/>
<path d="M325.4,73.0Q316.8,76.1 308.6,71.9" fill="none" stroke="#a65628" stroke-opacity="0.95" stroke-width="0.41" stroke-linecap="round"/>
<path d="M325.4,73.0Q330.9,66.2 339.6,65.6" fill="none" stroke="#a65628" stroke-opacity="0.95" stroke-width="0.26" stroke-linecap="round"/>
<path d="M339.6,65.6Q339.3,57.3 345.2,51.4" fill="none" stroke="#4ca9e0" stroke-opacity="0.95" stroke-width="0.36" stroke-linecap="round"/>
<path d="M339.6,65.6Q333.2,51.5 339.2,37.3" fill="none" stroke="#4ca9e0" stroke-opacity="0.95" stroke-width="0.43" stroke-linecap="round"/>
<path d="M339.6,65.6Q324.6,48.8 326.9,26.4" fill="none" stroke="#4ca9e0" stroke-opacity="0.95" stroke-width="0.54" stroke-linecap="round"/>
<path d="M339.6,65.6Q315.8,55.0 307.5,30.2" fill="none" stroke="#4ca9e0" stroke-opacity="0.95" stroke-width="0.54" stroke-linecap="round"/>
<path d="M339.6,65.6Q314.2,63.9 298.4,44.0" fill="none" stroke="#4ca9e0" stroke-opacity="0.95" stroke-width="0.34" stroke-linecap="round"/>
<path d="M339.6,65.6Q317.2,71.2 298.0,58.5" fill="none" stroke="#4ca9e0" stroke-opacity="0.95" stroke-width="0.23" stroke-linecap="round"/>
<path d="M339.6,65.6Q325.5,75.6 308.6,71.9" fill="none" stroke="#4ca9e0" stroke-opacity="0.95" stroke-width="0.61" stroke-linecap="round"/>
<path d="M339.6,65.6Q334.1,72.4 325.4,73.0" fill="none" stroke="#4ca9e0" stroke-opacity="0.95" stroke-width="0.11" stroke-linecap="round"/>
<circle cx="326.9" cy="26.4" r="1.15" fill="#4daf4a"/>
<circle cx="307.5" cy="30.2" r="1.15" fill="#9150b0"/>
<circle cx="339.2" cy="37.3" r="1.15" fill="#377eb8"/>
<circle cx="345.2" cy="51.4" r="1.15" fill="#e41a1c"/>
<circle cx="339.6" cy="65.6" r="1.15" fill="#4ca9e0"/>
<circle cx="325.4" cy="73.0" r="1.15" fill="#a65628"/>
<circle cx="308.6" cy="71.9" r="1.15" fill="#b99dd0"/>
<circle cx="298.0" cy="58.5" r="1.15" fill="#f781bf"/>
<circle cx="298.4" cy="44.0" r="1.15" fill="#f29403"/>
<text x="323.4" y="25.6" font-size="1.95" text-anchor="middle">CD14+ mono</text>
<text x="304.2" y="29.3" font-size="1.95" text-anchor="middle">FCGR3A+ mono</text>
<text x="341.5" y="34.6" font-size="1.95" text-anchor="start">CD8+ T</text>
<text x="347.3" y="52.1" font-size="1.95" text-anchor="start">CD4+ T</text>
<text x="341.3" y="67.3" font-size="1.95" text-anchor="start">mixed</text>
<text x="326.5" y="77.6" font-size="1.95" text-anchor="middle">platelet</text>
<text x="307.6" y="75.8" font-size="1.95" text-anchor="end">DC</text>
<text x="295.0" y="61.8" font-size="1.95" text-anchor="end">B</text>
<text x="295.3" y="44.7" font-size="1.95" text-anchor="end">NK</text>
</g>
<g>
<text x="324.6" y="106.3" font-size="2.82" text-anchor="middle">GALECTIN signaling pathway network  HC</text>
<circle cx="305.2" cy="114.6" r="1.8" fill="none" stroke="#9060b4" stroke-opacity="0.7" stroke-width="3.4"/>
<circle cx="326.0" cy="114.3" r="1.5" fill="none" stroke="#4daf4a" stroke-opacity="0.7" stroke-width="2.6"/>
<circle cx="305.4" cy="165.0" r="1.5" fill="none" stroke="#b99dd0" stroke-opacity="0.7" stroke-width="0.7"/>
<path d="M325.8,117.5Q341.0,124.7 345.9,140.7" fill="none" stroke="#4daf4a" stroke-opacity="0.66" stroke-width="1.8" stroke-linecap="round"/>
<path d="M325.8,117.5Q334.5,118.5 339.6,125.6" fill="none" stroke="#4daf4a" stroke-opacity="0.66" stroke-width="1.62" stroke-linecap="round"/>
<path d="M325.8,117.5Q317.1,122.0 308.0,118.6" fill="none" stroke="#4daf4a" stroke-opacity="0.66" stroke-width="1.62" stroke-linecap="round"/>
<path d="M325.8,117.5Q314.9,131.3 297.3,132.5" fill="none" stroke="#4daf4a" stroke-opacity="0.66" stroke-width="1.44" stroke-linecap="round"/>
<path d="M325.8,117.5Q318.5,139.5 297.3,149.0" fill="none" stroke="#4daf4a" stroke-opacity="0.66" stroke-width="1.08" stroke-linecap="round"/>
<path d="M325.8,117.5Q326.2,144.1 306.9,162.4" fill="none" stroke="#4daf4a" stroke-opacity="0.66" stroke-width="1.44" stroke-linecap="round"/>
<path d="M325.8,117.5Q341.6,133.7 340.3,156.2" fill="none" stroke="#4daf4a" stroke-opacity="0.66" stroke-width="1.62" stroke-linecap="round"/>
<path d="M308.0,118.6Q331.8,121.3 345.9,140.7" fill="none" stroke="#9060b4" stroke-opacity="0.66" stroke-width="3.4" stroke-linecap="round"/>
<path d="M308.0,118.6Q325.3,115.1 339.6,125.6" fill="none" stroke="#9060b4" stroke-opacity="0.66" stroke-width="3.06" stroke-linecap="round"/>
<path d="M308.0,118.6Q316.7,114.1 325.8,117.5" fill="none" stroke="#9060b4" stroke-opacity="0.66" stroke-width="3.06" stroke-linecap="round"/>
<path d="M308.0,118.6Q305.7,127.9 297.3,132.5" fill="none" stroke="#9060b4" stroke-opacity="0.66" stroke-width="2.72" stroke-linecap="round"/>
<path d="M308.0,118.6Q309.3,136.2 297.3,149.0" fill="none" stroke="#9060b4" stroke-opacity="0.66" stroke-width="2.04" stroke-linecap="round"/>
<path d="M308.0,118.6Q317.1,140.7 306.9,162.4" fill="none" stroke="#9060b4" stroke-opacity="0.66" stroke-width="2.72" stroke-linecap="round"/>
<path d="M308.0,118.6Q332.4,130.3 340.3,156.2" fill="none" stroke="#9060b4" stroke-opacity="0.66" stroke-width="3.06" stroke-linecap="round"/>
<path d="M306.9,162.4Q321.6,143.0 345.9,140.7" fill="none" stroke="#b99dd0" stroke-opacity="0.66" stroke-width="2.0" stroke-linecap="round"/>
<path d="M306.9,162.4Q315.2,136.8 339.6,125.6" fill="none" stroke="#b99dd0" stroke-opacity="0.66" stroke-width="1.8" stroke-linecap="round"/>
<path d="M306.9,162.4Q306.5,135.8 325.8,117.5" fill="none" stroke="#b99dd0" stroke-opacity="0.66" stroke-width="1.8" stroke-linecap="round"/>
<path d="M306.9,162.4Q297.8,140.3 308.0,118.6" fill="none" stroke="#b99dd0" stroke-opacity="0.66" stroke-width="1.8" stroke-linecap="round"/>
<path d="M306.9,162.4Q295.5,149.6 297.3,132.5" fill="none" stroke="#b99dd0" stroke-opacity="0.66" stroke-width="1.6" stroke-linecap="round"/>
<path d="M306.9,162.4Q299.2,157.8 297.3,149.0" fill="none" stroke="#b99dd0" stroke-opacity="0.66" stroke-width="1.2" stroke-linecap="round"/>
<path d="M306.9,162.4Q322.2,152.0 340.3,156.2" fill="none" stroke="#b99dd0" stroke-opacity="0.66" stroke-width="1.8" stroke-linecap="round"/>
<circle cx="325.8" cy="117.5" r="1.15" fill="#4daf4a"/>
<circle cx="308.0" cy="118.6" r="1.15" fill="#9150b0"/>
<circle cx="339.6" cy="125.6" r="1.15" fill="#377eb8"/>
<circle cx="345.9" cy="140.7" r="1.15" fill="#e41a1c"/>
<circle cx="340.3" cy="156.2" r="1.15" fill="#4ca9e0"/>
<circle cx="325.4" cy="164.3" r="1.15" fill="#a65628"/>
<circle cx="306.9" cy="162.4" r="1.15" fill="#b99dd0"/>
<circle cx="297.3" cy="149.0" r="1.15" fill="#f781bf"/>
<circle cx="297.3" cy="132.5" r="1.15" fill="#f29403"/>
<text x="323.4" y="114.6" font-size="1.95" text-anchor="middle">CD14+ mono</text>
<text x="304.5" y="118.0" font-size="1.95" text-anchor="middle">FCGR3A+ mono</text>
<text x="341.8" y="122.8" font-size="1.95" text-anchor="start">CD8+ T</text>
<text x="348.0" y="141.4" font-size="1.95" text-anchor="start">CD4+ T</text>
<text x="342.3" y="157.2" font-size="1.95" text-anchor="start">mixed</text>
<text x="326.5" y="168.9" font-size="1.95" text-anchor="middle">platelet</text>
<text x="308.6" y="167.6" font-size="1.95" text-anchor="end">DC</text>
<text x="294.3" y="152.4" font-size="1.95" text-anchor="end">B</text>
<text x="294.3" y="133.3" font-size="1.95" text-anchor="end">NK</text>
</g>
</g>
<defs>
<linearGradient id="lgRA" x1="0" y1="0" x2="0" y2="1"><stop offset="0" stop-color="#67000d"/><stop offset="0.2" stop-color="#a50f15"/><stop offset="0.4" stop-color="#cb181d"/><stop offset="0.55" stop-color="#ef3b2c"/><stop offset="0.7" stop-color="#fb6a4a"/><stop offset="0.85" stop-color="#fcbba1"/><stop offset="1" stop-color="#fff5f0"/></linearGradient>
<linearGradient id="lgHC" x1="0" y1="0" x2="0" y2="1"><stop offset="0" stop-color="#67000d"/><stop offset="0.2" stop-color="#a50f15"/><stop offset="0.4" stop-color="#cb181d"/><stop offset="0.55" stop-color="#ef3b2c"/><stop offset="0.7" stop-color="#fb6a4a"/><stop offset="0.85" stop-color="#fcbba1"/><stop offset="1" stop-color="#fff5f0"/></linearGradient>
</defs>
<g id="panelC">
<g>
<text x="101.5" y="185.2" font-size="4.15" text-anchor="middle">GALECTIN signaling network  RA</text>
<rect x="43.80" y="202.00" width="12.89" height="15.18" fill="#fff"/>
<rect x="55.69" y="202.00" width="12.89" height="15.18" fill="#fff"/>
<rect x="67.58" y="202.00" width="12.89" height="15.18" fill="#fff"/>
<rect x="79.47" y="202.00" width="12.89" height="15.18" fill="#fff"/>
<rect x="91.36" y="202.00" width="12.89" height="15.18" fill="#fff"/>
<rect x="103.25" y="202.00" width="12.89" height="15.18" fill="#fff"/>
<rect x="115.14" y="202.00" width="12.89" height="15.18" fill="#fff"/>
<rect x="127.03" y="202.00" width="12.89" height="15.18" fill="#fff"/>
<rect x="138.92" y="202.00" width="11.89" height="15.18" fill="#fff"/>
<rect x="43.80" y="216.18" width="12.89" height="15.18" fill="#fff"/>
<rect x="55.69" y="216.18" width="12.89" height="15.18" fill="#fff"/>
<rect x="67.58" y="216.18" width="12.89" height="15.18" fill="#fff"/>
<rect x="79.47" y="216.18" width="12.89" height="15.18" fill="#fff"/>
<rect x="91.36" y="216.18" width="12.89" height="15.18" fill="#fff"/>
<rect x="103.25" y="216.18" width="12.89" height="15.18" fill="#fff"/>
<rect x="115.14" y="216.18" width="12.89" height="15.18" fill="#fff"/>
<rect x="127.03" y="216.18" width="12.89" height="15.18" fill="#fff"/>
<rect x="138.92" y="216.18" width="11.89" height="15.18" fill="#fff"/>
<rect x="43.80" y="230.36" width="12.89" height="15.18" fill="#e8453c"/>
<rect x="55.69" y="230.36" width="12.89" height="15.18" fill="#e13b36"/>
<rect x="67.58" y="230.36" width="12.89" height="15.18" fill="#cb2a2e"/>
<rect x="79.47" y="230.36" width="12.89" height="15.18" fill="#cb2a2e"/>
<rect x="91.36" y="230.36" width="12.89" height="15.18" fill="#e84840"/>
<rect x="103.25" y="230.36" width="12.89" height="15.18" fill="#f58468"/>
<rect x="115.14" y="230.36" width="12.89" height="15.18" fill="#c4262b"/>
<rect x="127.03" y="230.36" width="12.89" height="15.18" fill="#fcc4ae"/>
<rect x="138.92" y="230.36" width="11.89" height="15.18" fill="#e84a40"/>
<rect x="43.80" y="244.54" width="12.89" height="15.18" fill="#cf2c2f"/>
<rect x="55.69" y="244.54" width="12.89" height="15.18" fill="#b5232b"/>
<rect x="67.58" y="244.54" width="12.89" height="15.18" fill="#8a1a22"/>
<rect x="79.47" y="244.54" width="12.89" height="15.18" fill="#8c1b23"/>
<rect x="91.36" y="244.54" width="12.89" height="15.18" fill="#c6282d"/>
<rect x="103.25" y="244.54" width="12.89" height="15.18" fill="#f2614d"/>
<rect x="115.14" y="244.54" width="12.89" height="15.18" fill="#6e151c"/>
<rect x="127.03" y="244.54" width="12.89" height="15.18" fill="#fbb49b"/>
<rect x="138.92" y="244.54" width="11.89" height="15.18" fill="#cb2a2e"/>
<rect x="43.80" y="258.72" width="12.89" height="15.18" fill="#fff"/>
<rect x="55.69" y="258.72" width="12.89" height="15.18" fill="#fff"/>
<rect x="67.58" y="258.72" width="12.89" height="15.18" fill="#fff"/>
<rect x="79.47" y="258.72" width="12.89" height="15.18" fill="#fff"/>
<rect x="91.36" y="258.72" width="12.89" height="15.18" fill="#fff"/>
<rect x="103.25" y="258.72" width="12.89" height="15.18" fill="#fff"/>
<rect x="115.14" y="258.72" width="12.89" height="15.18" fill="#fff"/>
<rect x="127.03" y="258.72" width="12.89" height="15.18" fill="#fff"/>
<rect x="138.92" y="258.72" width="11.89" height="15.18" fill="#fff"/>
<rect x="43.80" y="272.90" width="12.89" height="15.18" fill="#fde3d8"/>
<rect x="55.69" y="272.90" width="12.89" height="15.18" fill="#fddcd0"/>
<rect x="67.58" y="272.90" width="12.89" height="15.18" fill="#fdd5c6"/>
<rect x="79.47" y="272.90" width="12.89" height="15.18" fill="#fdd5c6"/>
<rect x="91.36" y="272.90" width="12.89" height="15.18" fill="#fde0d5"/>
<rect x="103.25" y="272.90" width="12.89" height="15.18" fill="#fff"/>
<rect x="115.14" y="272.90" width="12.89" height="15.18" fill="#fdd2c2"/>
<rect x="127.03" y="272.90" width="12.89" height="15.18" fill="#fff"/>
<rect x="138.92" y="272.90" width="11.89" height="15.18" fill="#fde3d8"/>
<rect x="43.80" y="287.08" width="12.89" height="15.18" fill="#cf2c2f"/>
<rect x="55.69" y="287.08" width="12.89" height="15.18" fill="#b0222a"/>
<rect x="67.58" y="287.08" width="12.89" height="15.18" fill="#8a1a22"/>
<rect x="79.47" y="287.08" width="12.89" height="15.18" fill="#8c1b23"/>
<rect x="91.36" y="287.08" width="12.89" height="15.18" fill="#c6282d"/>
<rect x="103.25" y="287.08" width="12.89" height="15.18" fill="#f2614d"/>
<rect x="115.14" y="287.08" width="12.89" height="15.18" fill="#6e151c"/>
<rect x="127.03" y="287.08" width="12.89" height="15.18" fill="#fbb49b"/>
<rect x="138.92" y="287.08" width="11.89" height="15.18" fill="#cb2a2e"/>
<rect x="43.80" y="301.26" width="12.89" height="15.18" fill="#fff"/>
<rect x="55.69" y="301.26" width="12.89" height="15.18" fill="#fff"/>
<rect x="67.58" y="301.26" width="12.89" height="15.18" fill="#fdeee8"/>
<rect x="79.47" y="301.26" width="12.89" height="15.18" fill="#fdeee8"/>
<rect x="91.36" y="301.26" width="12.89" height="15.18" fill="#fff5f0"/>
<rect x="103.25" y="301.26" width="12.89" height="15.18" fill="#fff"/>
<rect x="115.14" y="301.26" width="12.89" height="15.18" fill="#fdeae2"/>
<rect x="127.03" y="301.26" width="12.89" height="15.18" fill="#fff"/>
<rect x="138.92" y="301.26" width="11.89" height="15.18" fill="#fff"/>
<rect x="43.80" y="315.44" width="12.89" height="14.18" fill="#fde3d8"/>
<rect x="55.69" y="315.44" width="12.89" height="14.18" fill="#fddccf"/>
<rect x="67.58" y="315.44" width="12.89" height="14.18" fill="#fdd5c6"/>
<rect x="79.47" y="315.44" width="12.89" height="14.18" fill="#fdd5c6"/>
<rect x="91.36" y="315.44" width="12.89" height="14.18" fill="#fde0d5"/>
<rect x="103.25" y="315.44" width="12.89" height="14.18" fill="#fff0ea"/>
<rect x="115.14" y="315.44" width="12.89" height="14.18" fill="#fdd2c2"/>
<rect x="127.03" y="315.44" width="12.89" height="14.18" fill="#fff"/>
<rect x="138.92" y="315.44" width="11.89" height="14.18" fill="#fde3d8"/>
<rect x="39.7" y="202.00" width="2.2" height="15.18" fill="#e41a1c"/>
<text x="39.1" y="210.24" font-size="3.32" text-anchor="end">CD4+ T</text>
<rect x="39.7" y="216.18" width="2.2" height="15.18" fill="#377eb8"/>
<text x="39.1" y="224.42" font-size="3.32" text-anchor="end">CD8+ T</text>
<rect x="39.7" y="230.36" width="2.2" height="15.18" fill="#4daf4a"/>
<text x="39.1" y="238.60" font-size="3.32" text-anchor="end">CD14+ mono</text>
<rect x="39.7" y="244.54" width="2.2" height="15.18" fill="#9150b0"/>
<text x="39.1" y="252.78" font-size="3.32" text-anchor="end">FCGR3A+ mono</text>
<rect x="39.7" y="258.72" width="2.2" height="15.18" fill="#f29403"/>
<text x="39.1" y="266.96" font-size="3.32" text-anchor="end">NK</text>
<rect x="39.7" y="272.90" width="2.2" height="15.18" fill="#f781bf"/>
<text x="39.1" y="281.14" font-size="3.32" text-anchor="end">B</text>
<rect x="39.7" y="287.08" width="2.2" height="15.18" fill="#b99dd0"/>
<text x="39.1" y="295.32" font-size="3.32" text-anchor="end">DC</text>
<rect x="39.7" y="301.26" width="2.2" height="15.18" fill="#a65628"/>
<text x="39.1" y="309.50" font-size="3.32" text-anchor="end">platelet</text>
<rect x="39.7" y="315.44" width="2.2" height="14.18" fill="#4ca9e0"/>
<text x="39.1" y="323.68" font-size="3.32" text-anchor="end">mixed</text>
<rect x="43.80" y="331.52" width="12.89" height="2.1" fill="#e41a1c"/>
<text x="50.89" y="335.92" font-size="3.32" text-anchor="end" transform="rotate(-90 50.89 335.92)">CD4+ T</text>
<rect x="55.69" y="331.52" width="12.89" height="2.1" fill="#377eb8"/>
<text x="62.78" y="335.92" font-size="3.32" text-anchor="end" transform="rotate(-90 62.78 335.92)">CD8+ T</text>
<rect x="67.58" y="331.52" width="12.89" height="2.1" fill="#4daf4a"/>
<text x="74.68" y="335.92" font-size="3.32" text-anchor="end" transform="rotate(-90 74.68 335.92)">CD14+ mono</text>
<rect x="79.47" y="331.52" width="12.89" height="2.1" fill="#9150b0"/>
<text x="86.56" y="335.92" font-size="3.32" text-anchor="end" transform="rotate(-90 86.56 335.92)">FCGR3A+ mono</text>
<rect x="91.36" y="331.52" width="12.89" height="2.1" fill="#f29403"/>
<text x="98.46" y="335.92" font-size="3.32" text-anchor="end" transform="rotate(-90 98.46 335.92)">NK</text>
<rect x="103.25" y="331.52" width="12.89" height="2.1" fill="#f781bf"/>
<text x="110.35" y="335.92" font-size="3.32" text-anchor="end" transform="rotate(-90 110.35 335.92)">B</text>
<rect x="115.14" y="331.52" width="12.89" height="2.1" fill="#b99dd0"/>
<text x="122.23" y="335.92" font-size="3.32" text-anchor="end" transform="rotate(-90 122.23 335.92)">DC</text>
<rect x="127.03" y="331.52" width="12.89" height="2.1" fill="#a65628"/>
<text x="134.13" y="335.92" font-size="3.32" text-anchor="end" transform="rotate(-90 134.13 335.92)">platelet</text>
<rect x="138.92" y="331.52" width="11.89" height="2.1" fill="#4ca9e0"/>
<text x="146.02" y="335.92" font-size="3.32" text-anchor="end" transform="rotate(-90 146.02 335.92)">mixed</text>
<rect x="45.99" y="192.90" width="7.5" height="8.00" fill="#e41a1c"/>
<rect x="57.88" y="191.50" width="7.5" height="9.40" fill="#377eb8"/>
<rect x="69.78" y="189.70" width="7.5" height="11.20" fill="#4daf4a"/>
<rect x="81.66" y="189.70" width="7.5" height="11.20" fill="#9150b0"/>
<rect x="93.56" y="192.70" width="7.5" height="8.20" fill="#f29403"/>
<rect x="105.45" y="195.60" width="7.5" height="5.30" fill="#f781bf"/>
<rect x="117.33" y="188.80" width="7.5" height="12.10" fill="#b99dd0"/>
<rect x="129.23" y="198.20" width="7.5" height="2.70" fill="#a65628"/>
<rect x="141.12" y="192.30" width="7.5" height="8.60" fill="#4ca9e0"/>
<path d="M42.7,189.6V200.7" stroke="#000" stroke-width="0.5" fill="none"/>
<path d="M41.900000000000006,200.70H42.7" stroke="#000" stroke-width="0.4"/>
<text x="41.400000000000006" y="201.50" font-size="2.3" text-anchor="end">0</text>
<path d="M41.900000000000006,197.00H42.7" stroke="#000" stroke-width="0.4"/>
<text x="41.400000000000006" y="197.80" font-size="2.3" text-anchor="end">0.2</text>
<path d="M41.900000000000006,193.30H42.7" stroke="#000" stroke-width="0.4"/>
<text x="41.400000000000006" y="194.10" font-size="2.3" text-anchor="end">0.4</text>
<path d="M41.900000000000006,189.60H42.7" stroke="#000" stroke-width="0.4"/>
<text x="41.400000000000006" y="190.40" font-size="2.3" text-anchor="end">0.6</text>
<rect x="151.91" y="205.10" width="0.50" height="8.68" fill="#e41a1c"/>
<rect x="151.91" y="219.28" width="0.50" height="8.68" fill="#377eb8"/>
<rect x="151.91" y="233.46" width="9.40" height="8.68" fill="#4daf4a"/>
<rect x="151.91" y="247.64" width="11.90" height="8.68" fill="#9150b0"/>
<rect x="151.91" y="261.82" width="0.50" height="8.68" fill="#f29403"/>
<rect x="151.91" y="276.00" width="1.50" height="8.68" fill="#f781bf"/>
<rect x="151.91" y="290.18" width="11.30" height="8.68" fill="#b99dd0"/>
<rect x="151.91" y="304.36" width="0.50" height="8.68" fill="#a65628"/>
<rect x="151.91" y="318.54" width="2.00" height="8.68" fill="#4ca9e0"/>
<path d="M151.9,330.3H164.4" stroke="#000" stroke-width="0.5" fill="none"/>
<path d="M151.90,330.3v0.8" stroke="#000" stroke-width="0.4"/>
<text x="152.70" y="331.90000000000003" font-size="2.3" text-anchor="end" transform="rotate(-90 152.70 331.90000000000003)">0</text>
<path d="M156.07,330.3v0.8" stroke="#000" stroke-width="0.4"/>
<text x="156.87" y="331.90000000000003" font-size="2.3" text-anchor="end" transform="rotate(-90 156.87 331.90000000000003)">0.5</text>
<path d="M160.23,330.3v0.8" stroke="#000" stroke-width="0.4"/>
<text x="161.03" y="331.90000000000003" font-size="2.3" text-anchor="end" transform="rotate(-90 161.03 331.90000000000003)">1</text>
<path d="M164.40,330.3v0.8" stroke="#000" stroke-width="0.4"/>
<text x="165.20" y="331.90000000000003" font-size="2.3" text-anchor="end" transform="rotate(-90 165.20 331.90000000000003)">1.5</text>
<rect x="171.4" y="252.6" width="2.5" height="27.60" fill="url(#lgRA)"/>
<text x="174.8" y="254.55" font-size="2.85">0.25</text>
<text x="174.8" y="259.85" font-size="2.85">0.2</text>
<text x="174.8" y="265.15" font-size="2.85">0.15</text>
<text x="174.8" y="270.45" font-size="2.85">0.1</text>
<text x="174.8" y="275.75" font-size="2.85">0.05</text>
<text x="174.8" y="280.95" font-size="2.85">0</text>
<text x="168.6" y="267.90" font-size="3.4" text-anchor="middle" transform="rotate(-90 168.6 267.90)">Communication Prob.</text>
<text x="10.7" y="265.81" font-size="4.2" text-anchor="middle" transform="rotate(-90 10.7 265.81)">Sources (Sender)</text>
</g>
<g>
<text x="103.5" y="365.8" font-size="4.15" text-anchor="middle">GALECTIN signaling network  HC</text>
<rect x="46.50" y="383.40" width="12.83" height="15.14" fill="#fff"/>
<rect x="58.33" y="383.40" width="12.83" height="15.14" fill="#fff"/>
<rect x="70.16" y="383.40" width="12.83" height="15.14" fill="#fff"/>
<rect x="81.99" y="383.40" width="12.83" height="15.14" fill="#fff"/>
<rect x="93.82" y="383.40" width="12.83" height="15.14" fill="#fff"/>
<rect x="105.65" y="383.40" width="12.83" height="15.14" fill="#fff"/>
<rect x="117.48" y="383.40" width="12.83" height="15.14" fill="#fff"/>
<rect x="129.31" y="383.40" width="12.83" height="15.14" fill="#fff"/>
<rect x="141.14" y="383.40" width="11.83" height="15.14" fill="#fff"/>
<rect x="46.50" y="397.54" width="12.83" height="15.14" fill="#fff"/>
<rect x="58.33" y="397.54" width="12.83" height="15.14" fill="#fff"/>
<rect x="70.16" y="397.54" width="12.83" height="15.14" fill="#fff"/>
<rect x="81.99" y="397.54" width="12.83" height="15.14" fill="#fff"/>
<rect x="93.82" y="397.54" width="12.83" height="15.14" fill="#fff"/>
<rect x="105.65" y="397.54" width="12.83" height="15.14" fill="#fff"/>
<rect x="117.48" y="397.54" width="12.83" height="15.14" fill="#fff"/>
<rect x="129.31" y="397.54" width="12.83" height="15.14" fill="#fff"/>
<rect x="141.14" y="397.54" width="11.83" height="15.14" fill="#fff"/>
<rect x="46.50" y="411.68" width="12.83" height="15.14" fill="#fcc2ac"/>
<rect x="58.33" y="411.68" width="12.83" height="15.14" fill="#fbb9a0"/>
<rect x="70.16" y="411.68" width="12.83" height="15.14" fill="#f26a55"/>
<rect x="81.99" y="411.68" width="12.83" height="15.14" fill="#f4705a"/>
<rect x="93.82" y="411.68" width="12.83" height="15.14" fill="#fdcfbd"/>
<rect x="105.65" y="411.68" width="12.83" height="15.14" fill="#fee5da"/>
<rect x="117.48" y="411.68" width="12.83" height="15.14" fill="#fcc5b0"/>
<rect x="129.31" y="411.68" width="12.83" height="15.14" fill="#fff"/>
<rect x="141.14" y="411.68" width="11.83" height="15.14" fill="#fbbfa8"/>
<rect x="46.50" y="425.82" width="12.83" height="15.14" fill="#e73f38"/>
<rect x="58.33" y="425.82" width="12.83" height="15.14" fill="#e43a35"/>
<rect x="70.16" y="425.82" width="12.83" height="15.14" fill="#6a141b"/>
<rect x="81.99" y="425.82" width="12.83" height="15.14" fill="#7d1a21"/>
<rect x="93.82" y="425.82" width="12.83" height="15.14" fill="#ef5b4a"/>
<rect x="105.65" y="425.82" width="12.83" height="15.14" fill="#f68c70"/>
<rect x="117.48" y="425.82" width="12.83" height="15.14" fill="#ec5043"/>
<rect x="129.31" y="425.82" width="12.83" height="15.14" fill="#fff"/>
<rect x="141.14" y="425.82" width="11.83" height="15.14" fill="#e8433a"/>
<rect x="46.50" y="439.96" width="12.83" height="15.14" fill="#fff"/>
<rect x="58.33" y="439.96" width="12.83" height="15.14" fill="#fff"/>
<rect x="70.16" y="439.96" width="12.83" height="15.14" fill="#fff"/>
<rect x="81.99" y="439.96" width="12.83" height="15.14" fill="#fff"/>
<rect x="93.82" y="439.96" width="12.83" height="15.14" fill="#fff"/>
<rect x="105.65" y="439.96" width="12.83" height="15.14" fill="#fff"/>
<rect x="117.48" y="439.96" width="12.83" height="15.14" fill="#fff"/>
<rect x="129.31" y="439.96" width="12.83" height="15.14" fill="#fff"/>
<rect x="141.14" y="439.96" width="11.83" height="15.14" fill="#fff"/>
<rect x="46.50" y="454.10" width="12.83" height="15.14" fill="#fff"/>
<rect x="58.33" y="454.10" width="12.83" height="15.14" fill="#fff"/>
<rect x="70.16" y="454.10" width="12.83" height="15.14" fill="#fff"/>
<rect x="81.99" y="454.10" width="12.83" height="15.14" fill="#fff"/>
<rect x="93.82" y="454.10" width="12.83" height="15.14" fill="#fff"/>
<rect x="105.65" y="454.10" width="12.83" height="15.14" fill="#fff"/>
<rect x="117.48" y="454.10" width="12.83" height="15.14" fill="#fff"/>
<rect x="129.31" y="454.10" width="12.83" height="15.14" fill="#fff"/>
<rect x="141.14" y="454.10" width="11.83" height="15.14" fill="#fff"/>
<rect x="46.50" y="468.24" width="12.83" height="15.14" fill="#fdd5c5"/>
<rect x="58.33" y="468.24" width="12.83" height="15.14" fill="#fdcfbd"/>
<rect x="70.16" y="468.24" width="12.83" height="15.14" fill="#f68b70"/>
<rect x="81.99" y="468.24" width="12.83" height="15.14" fill="#f79078"/>
<rect x="93.82" y="468.24" width="12.83" height="15.14" fill="#fddccf"/>
<rect x="105.65" y="468.24" width="12.83" height="15.14" fill="#feeae1"/>
<rect x="117.48" y="468.24" width="12.83" height="15.14" fill="#fdd5c5"/>
<rect x="129.31" y="468.24" width="12.83" height="15.14" fill="#fff"/>
<rect x="141.14" y="468.24" width="11.83" height="15.14" fill="#fdcfbd"/>
<rect x="46.50" y="482.38" width="12.83" height="15.14" fill="#fff"/>
<rect x="58.33" y="482.38" width="12.83" height="15.14" fill="#fff"/>
<rect x="70.16" y="482.38" width="12.83" height="15.14" fill="#fff"/>
<rect x="81.99" y="482.38" width="12.83" height="15.14" fill="#fff"/>
<rect x="93.82" y="482.38" width="12.83" height="15.14" fill="#fff"/>
<rect x="105.65" y="482.38" width="12.83" height="15.14" fill="#fff"/>
<rect x="117.48" y="482.38" width="12.83" height="15.14" fill="#fff"/>
<rect x="129.31" y="482.38" width="12.83" height="15.14" fill="#fff"/>
<rect x="141.14" y="482.38" width="11.83" height="15.14" fill="#fff"/>
<rect x="46.50" y="496.52" width="12.83" height="14.14" fill="#fff"/>
<rect x="58.33" y="496.52" width="12.83" height="14.14" fill="#fff"/>
<rect x="70.16" y="496.52" width="12.83" height="14.14" fill="#fff"/>
<rect x="81.99" y="496.52" width="12.83" height="14.14" fill="#fff"/>
<rect x="93.82" y="496.52" width="12.83" height="14.14" fill="#fff"/>
<rect x="105.65" y="496.52" width="12.83" height="14.14" fill="#fff"/>
<rect x="117.48" y="496.52" width="12.83" height="14.14" fill="#fff"/>
<rect x="129.31" y="496.52" width="12.83" height="14.14" fill="#fff"/>
<rect x="141.14" y="496.52" width="11.83" height="14.14" fill="#fff"/>
<rect x="42.5" y="383.40" width="2.2" height="15.14" fill="#e41a1c"/>
<text x="41.6" y="391.62" font-size="3.32" text-anchor="end">CD4+ T</text>
<rect x="42.5" y="397.54" width="2.2" height="15.14" fill="#377eb8"/>
<text x="41.6" y="405.76" font-size="3.32" text-anchor="end">CD8+ T</text>
<rect x="42.5" y="411.68" width="2.2" height="15.14" fill="#4daf4a"/>
<text x="41.6" y="419.90" font-size="3.32" text-anchor="end">CD14+ mono</text>
<rect x="42.5" y="425.82" width="2.2" height="15.14" fill="#9150b0"/>
<text x="41.6" y="434.04" font-size="3.32" text-anchor="end">FCGR3A+ mono</text>
<rect x="42.5" y="439.96" width="2.2" height="15.14" fill="#f29403"/>
<text x="41.6" y="448.18" font-size="3.32" text-anchor="end">NK</text>
<rect x="42.5" y="454.10" width="2.2" height="15.14" fill="#f781bf"/>
<text x="41.6" y="462.32" font-size="3.32" text-anchor="end">B</text>
<rect x="42.5" y="468.24" width="2.2" height="15.14" fill="#b99dd0"/>
<text x="41.6" y="476.46" font-size="3.32" text-anchor="end">DC</text>
<rect x="42.5" y="482.38" width="2.2" height="15.14" fill="#a65628"/>
<text x="41.6" y="490.60" font-size="3.32" text-anchor="end">platelet</text>
<rect x="42.5" y="496.52" width="2.2" height="14.14" fill="#4ca9e0"/>
<text x="41.6" y="504.74" font-size="3.32" text-anchor="end">mixed</text>
<rect x="46.50" y="512.56" width="12.83" height="2.1" fill="#e41a1c"/>
<text x="53.56" y="516.96" font-size="3.32" text-anchor="end" transform="rotate(-90 53.56 516.96)">CD4+ T</text>
<rect x="58.33" y="512.56" width="12.83" height="2.1" fill="#377eb8"/>
<text x="65.40" y="516.96" font-size="3.32" text-anchor="end" transform="rotate(-90 65.40 516.96)">CD8+ T</text>
<rect x="70.16" y="512.56" width="12.83" height="2.1" fill="#4daf4a"/>
<text x="77.23" y="516.96" font-size="3.32" text-anchor="end" transform="rotate(-90 77.23 516.96)">CD14+ mono</text>
<rect x="81.99" y="512.56" width="12.83" height="2.1" fill="#9150b0"/>
<text x="89.06" y="516.96" font-size="3.32" text-anchor="end" transform="rotate(-90 89.06 516.96)">FCGR3A+ mono</text>
<rect x="93.82" y="512.56" width="12.83" height="2.1" fill="#f29403"/>
<text x="100.89" y="516.96" font-size="3.32" text-anchor="end" transform="rotate(-90 100.89 516.96)">NK</text>
<rect x="105.65" y="512.56" width="12.83" height="2.1" fill="#f781bf"/>
<text x="112.72" y="516.96" font-size="3.32" text-anchor="end" transform="rotate(-90 112.72 516.96)">B</text>
<rect x="117.48" y="512.56" width="12.83" height="2.1" fill="#b99dd0"/>
<text x="124.55" y="516.96" font-size="3.32" text-anchor="end" transform="rotate(-90 124.55 516.96)">DC</text>
<rect x="129.31" y="512.56" width="12.83" height="2.1" fill="#a65628"/>
<text x="136.38" y="516.96" font-size="3.32" text-anchor="end" transform="rotate(-90 136.38 516.96)">platelet</text>
<rect x="141.14" y="512.56" width="11.83" height="2.1" fill="#4ca9e0"/>
<text x="148.21" y="516.96" font-size="3.32" text-anchor="end" transform="rotate(-90 148.21 516.96)">mixed</text>
<rect x="48.66" y="373.50" width="7.5" height="8.00" fill="#e41a1c"/>
<rect x="60.50" y="373.00" width="7.5" height="8.50" fill="#377eb8"/>
<rect x="72.33" y="369.70" width="7.5" height="11.80" fill="#4daf4a"/>
<rect x="84.16" y="370.20" width="7.5" height="11.30" fill="#9150b0"/>
<rect x="95.98" y="374.00" width="7.5" height="7.50" fill="#f29403"/>
<rect x="107.81" y="375.20" width="7.5" height="6.30" fill="#f781bf"/>
<rect x="119.64" y="374.00" width="7.5" height="7.50" fill="#b99dd0"/>
<rect x="131.47" y="381.00" width="7.5" height="0.50" fill="#a65628"/>
<rect x="143.31" y="374.00" width="7.5" height="7.50" fill="#4ca9e0"/>
<path d="M45.3,372.0V381.9" stroke="#000" stroke-width="0.5" fill="none"/>
<path d="M44.5,381.90H45.3" stroke="#000" stroke-width="0.4"/>
<text x="44.0" y="382.70" font-size="2.3" text-anchor="end">0</text>
<path d="M44.5,376.95H45.3" stroke="#000" stroke-width="0.4"/>
<text x="44.0" y="377.75" font-size="2.3" text-anchor="end">0.2</text>
<path d="M44.5,372.00H45.3" stroke="#000" stroke-width="0.4"/>
<text x="44.0" y="372.80" font-size="2.3" text-anchor="end">0.4</text>
<rect x="154.07" y="386.50" width="0.50" height="8.64" fill="#e41a1c"/>
<rect x="154.07" y="400.64" width="0.50" height="8.64" fill="#377eb8"/>
<rect x="154.07" y="414.78" width="6.80" height="8.64" fill="#4daf4a"/>
<rect x="154.07" y="428.92" width="11.00" height="8.64" fill="#9150b0"/>
<rect x="154.07" y="443.06" width="0.50" height="8.64" fill="#f29403"/>
<rect x="154.07" y="457.20" width="0.50" height="8.64" fill="#f781bf"/>
<rect x="154.07" y="471.34" width="6.00" height="8.64" fill="#b99dd0"/>
<rect x="154.07" y="485.48" width="0.50" height="8.64" fill="#a65628"/>
<rect x="154.07" y="499.62" width="0.50" height="8.64" fill="#4ca9e0"/>
<path d="M154.6,511.8H165.5" stroke="#000" stroke-width="0.5" fill="none"/>
<path d="M154.60,511.8v0.8" stroke="#000" stroke-width="0.4"/>
<text x="155.40" y="513.4" font-size="2.3" text-anchor="end" transform="rotate(-90 155.40 513.4)">0</text>
<path d="M160.05,511.8v0.8" stroke="#000" stroke-width="0.4"/>
<text x="160.85" y="513.4" font-size="2.3" text-anchor="end" transform="rotate(-90 160.85 513.4)">0.5</text>
<path d="M165.50,511.8v0.8" stroke="#000" stroke-width="0.4"/>
<text x="166.30" y="513.4" font-size="2.3" text-anchor="end" transform="rotate(-90 166.30 513.4)">1</text>
<rect x="173.2" y="435.0" width="2.5" height="25.20" fill="url(#lgHC)"/>
<text x="176.6" y="437.95" font-size="2.85">0.2</text>
<text x="176.6" y="444.85" font-size="2.85">0.15</text>
<text x="176.6" y="451.75" font-size="2.85">0.1</text>
<text x="176.6" y="458.65" font-size="2.85">0.05</text>
<text x="170.2" y="449.10" font-size="3.4" text-anchor="middle" transform="rotate(-90 170.2 449.10)">Communication Prob.</text>
<text x="12.5" y="447.03" font-size="4.2" text-anchor="middle" transform="rotate(-90 12.5 447.03)">Sources (Sender)</text>
</g>
</g>
<g id="panelD">
<g>
<path d="M246.40,206.00V227.50" stroke="#444" stroke-width="0.9" fill="none"/>
<path d="M257.68,205.00V227.50" stroke="#444" stroke-width="0.9" fill="none"/>
<path d="M268.96,205.40V227.50" stroke="#444" stroke-width="0.9" fill="none"/>
<path d="M269.01,206.50C269.13,206.75 269.40,207.38 269.69,207.87C269.97,208.37 270.26,208.75 270.58,209.24C270.90,209.74 271.16,210.12 271.46,210.61C271.76,211.11 271.99,211.49 272.24,211.99C272.49,212.48 272.66,212.86 272.84,213.36C273.02,213.85 273.13,214.23 273.23,214.73C273.32,215.22 273.35,215.67 273.36,216.10C273.37,216.53 273.33,216.76 273.26,217.13C273.18,217.50 273.10,217.79 272.95,218.16C272.81,218.53 272.67,218.82 272.46,219.19C272.26,219.56 272.07,219.84 271.82,220.21C271.57,220.58 271.34,220.87 271.05,221.24C270.76,221.61 270.52,221.90 270.21,222.27C269.91,222.64 269.21,222.83 269.36,223.30C269.51,223.77 270.41,224.41 271.06,224.90C271.71,225.39 272.44,225.73 272.96,226.02C273.48,226.31 275.58,226.41 273.96,226.50C272.34,226.59 265.58,226.59 263.96,226.50C262.34,226.41 264.44,226.31 264.96,226.02C265.48,225.73 266.21,225.39 266.86,224.90C267.51,224.41 268.41,223.77 268.56,223.30C268.71,222.83 268.01,222.64 267.71,222.27C267.40,221.90 267.16,221.61 266.87,221.24C266.58,220.87 266.35,220.58 266.10,220.21C265.85,219.84 265.66,219.56 265.46,219.19C265.25,218.82 265.11,218.53 264.97,218.16C264.82,217.79 264.74,217.50 264.66,217.13C264.59,216.76 264.55,216.53 264.56,216.10C264.57,215.67 264.60,215.22 264.69,214.73C264.79,214.23 264.90,213.85 265.08,213.36C265.26,212.86 265.43,212.48 265.68,211.99C265.93,211.49 266.16,211.11 266.46,210.61C266.76,210.12 267.02,209.74 267.34,209.24C267.66,208.75 267.95,208.37 268.23,207.87C268.52,207.38 268.77,206.75 268.91,206.50C269.05,206.25 268.99,206.50 269.01,206.50Z" fill="#4daf4a" stroke="#0a0a0a" stroke-width="0.65" stroke-linejoin="round"/>
<path d="M280.24,205.40V227.50" stroke="#444" stroke-width="0.9" fill="none"/>
<path d="M280.29,206.50C280.43,206.75 280.74,207.38 281.07,207.87C281.39,208.37 281.72,208.75 282.08,209.24C282.44,209.74 282.74,210.12 283.08,210.61C283.42,211.11 283.68,211.49 283.96,211.99C284.25,212.48 284.45,212.86 284.65,213.36C284.86,213.85 284.98,214.23 285.09,214.73C285.20,215.22 285.23,215.66 285.24,216.10C285.25,216.54 285.21,216.79 285.12,217.17C285.04,217.56 284.94,217.86 284.77,218.24C284.61,218.63 284.45,218.93 284.21,219.31C283.98,219.70 283.76,220.00 283.47,220.39C283.18,220.77 282.92,221.07 282.59,221.46C282.26,221.84 281.97,222.14 281.62,222.53C281.27,222.91 280.67,223.15 280.64,223.60C280.61,224.05 281.11,224.61 281.46,225.05C281.80,225.49 282.26,225.80 282.56,226.06C282.86,226.33 284.08,226.42 283.14,226.50C282.20,226.58 278.28,226.58 277.34,226.50C276.40,226.42 277.62,226.33 277.92,226.06C278.22,225.80 278.68,225.49 279.02,225.05C279.37,224.61 279.87,224.05 279.84,223.60C279.81,223.15 279.21,222.91 278.86,222.53C278.51,222.14 278.22,221.84 277.89,221.46C277.56,221.07 277.30,220.77 277.01,220.39C276.72,220.00 276.50,219.70 276.27,219.31C276.03,218.93 275.87,218.63 275.71,218.24C275.54,217.86 275.44,217.56 275.36,217.17C275.27,216.79 275.23,216.54 275.24,216.10C275.25,215.66 275.28,215.22 275.39,214.73C275.50,214.23 275.62,213.85 275.83,213.36C276.03,212.86 276.23,212.48 276.52,211.99C276.80,211.49 277.06,211.11 277.40,210.61C277.74,210.12 278.04,209.74 278.40,209.24C278.76,208.75 279.09,208.37 279.41,207.87C279.74,207.38 280.03,206.75 280.19,206.50C280.35,206.25 280.27,206.50 280.29,206.50Z" fill="#9150b0" stroke="#0a0a0a" stroke-width="0.65" stroke-linejoin="round"/>
<path d="M291.52,208.00V227.50" stroke="#444" stroke-width="0.9" fill="none"/>
<path d="M302.80,208.40V227.50" stroke="#444" stroke-width="0.9" fill="none"/>
<path d="M302.95,215.00C303.00,215.72 303.14,217.65 303.20,219.00C303.26,220.35 303.12,221.55 303.30,222.50C303.48,223.45 303.75,223.78 304.20,224.30C304.65,224.82 305.21,225.00 305.80,225.40C306.39,225.80 308.89,226.30 307.50,226.50C306.11,226.70 299.49,226.70 298.10,226.50C296.71,226.30 299.21,225.80 299.80,225.40C300.39,225.00 300.95,224.82 301.40,224.30C301.85,223.78 302.12,223.45 302.30,222.50C302.48,221.55 302.34,220.35 302.40,219.00C302.46,217.65 302.55,215.72 302.65,215.00C302.75,214.28 302.90,215.00 302.95,215.00Z" fill="#f781bf" stroke="#0a0a0a" stroke-width="0.65" stroke-linejoin="round"/>
<path d="M314.08,209.40V227.50" stroke="#444" stroke-width="0.9" fill="none"/>
<path d="M314.13,211.20C314.17,211.32 314.19,211.64 314.36,211.89C314.52,212.13 314.76,212.32 315.05,212.57C315.35,212.82 315.65,213.01 316.01,213.26C316.36,213.50 316.69,213.70 317.03,213.94C317.38,214.19 317.67,214.38 317.94,214.63C318.22,214.88 318.41,215.07 318.56,215.31C318.71,215.56 318.78,215.70 318.78,216.00C318.78,216.30 318.71,216.61 318.55,216.96C318.39,217.30 318.19,217.57 317.91,217.91C317.63,218.26 317.34,218.53 316.99,218.87C316.65,219.22 316.33,219.48 316.00,219.83C315.66,220.17 315.39,220.44 315.13,220.79C314.87,221.13 314.70,221.40 314.56,221.74C314.43,222.09 314.41,222.01 314.38,222.70C314.35,223.39 314.35,225.00 314.38,225.60C314.41,226.20 314.44,225.91 314.54,226.05C314.65,226.19 314.85,226.28 314.96,226.37C315.07,226.45 315.54,226.48 315.18,226.50C314.82,226.52 313.34,226.52 312.98,226.50C312.62,226.48 313.09,226.45 313.20,226.37C313.31,226.28 313.51,226.19 313.62,226.05C313.72,225.91 313.75,226.20 313.78,225.60C313.81,225.00 313.81,223.39 313.78,222.70C313.75,222.01 313.73,222.09 313.60,221.74C313.46,221.40 313.29,221.13 313.03,220.79C312.77,220.44 312.50,220.17 312.16,219.83C311.83,219.48 311.51,219.22 311.17,218.87C310.82,218.53 310.53,218.26 310.25,217.91C309.97,217.57 309.77,217.30 309.61,216.96C309.45,216.61 309.38,216.30 309.38,216.00C309.38,215.70 309.45,215.56 309.60,215.31C309.75,215.07 309.94,214.88 310.22,214.63C310.49,214.38 310.78,214.19 311.13,213.94C311.47,213.70 311.80,213.50 312.15,213.26C312.51,213.01 312.81,212.82 313.11,212.57C313.40,212.32 313.64,212.13 313.80,211.89C313.97,211.64 313.97,211.32 314.03,211.20C314.09,211.08 314.11,211.20 314.13,211.20Z" fill="#b99dd0" stroke="#0a0a0a" stroke-width="0.65" stroke-linejoin="round"/>
<path d="M325.91,210.00C325.94,210.59 325.96,212.44 326.06,213.30C326.16,214.16 326.15,214.26 326.46,214.80C326.77,215.34 327.41,215.76 327.76,216.30C328.11,216.84 328.34,217.17 328.41,217.80C328.48,218.43 328.19,219.15 328.16,219.80C328.13,220.45 328.06,220.82 328.26,221.40C328.46,221.98 328.97,222.41 329.26,223.00C329.55,223.59 329.72,224.07 329.86,224.70C330.00,225.33 331.72,226.18 330.06,226.50C328.40,226.82 322.32,226.82 320.66,226.50C319.00,226.18 320.72,225.33 320.86,224.70C321.00,224.07 321.17,223.59 321.46,223.00C321.75,222.41 322.26,221.98 322.46,221.40C322.66,220.82 322.59,220.45 322.56,219.80C322.53,219.15 322.24,218.43 322.31,217.80C322.38,217.17 322.61,216.84 322.96,216.30C323.31,215.76 323.95,215.34 324.26,214.80C324.57,214.26 324.56,214.16 324.66,213.30C324.76,212.44 324.58,210.59 324.81,210.00C325.04,209.41 325.71,210.00 325.91,210.00Z" fill="#a65628" stroke="#0a0a0a" stroke-width="0.65" stroke-linejoin="round"/>
<path d="M336.64,203.30V227.50" stroke="#444" stroke-width="0.9" fill="none"/>
<path d="M336.79,214.50C336.88,215.04 337.18,216.33 337.29,217.50C337.40,218.67 337.34,220.01 337.39,221.00C337.44,221.99 337.31,222.39 337.54,223.00C337.76,223.61 338.15,223.95 338.64,224.40C339.13,224.85 339.68,225.12 340.24,225.50C340.80,225.88 343.31,226.32 341.74,226.50C340.17,226.68 333.11,226.68 331.54,226.50C329.97,226.32 332.48,225.88 333.04,225.50C333.60,225.12 334.15,224.85 334.64,224.40C335.13,223.95 335.51,223.61 335.74,223.00C335.97,222.39 335.84,221.99 335.89,221.00C335.94,220.01 335.88,218.67 335.99,217.50C336.10,216.33 336.35,215.04 336.49,214.50C336.63,213.96 336.74,214.50 336.79,214.50Z" fill="#4ca9e0" stroke="#0a0a0a" stroke-width="0.65" stroke-linejoin="round"/>
<path d="M246.40,239.00V262.00" stroke="#444" stroke-width="0.9" fill="none"/>
<path d="M246.45,240.00C246.58,240.24 246.87,240.87 247.18,241.36C247.48,241.85 247.79,242.23 248.13,242.71C248.47,243.20 248.75,243.58 249.07,244.07C249.39,244.56 249.63,244.94 249.90,245.43C250.17,245.92 250.36,246.30 250.55,246.79C250.74,247.27 250.86,247.98 250.96,248.14C251.06,248.31 251.07,247.13 251.10,247.70C251.13,248.27 251.11,250.52 251.10,251.30C251.09,252.08 251.09,251.76 251.05,252.01C251.02,252.27 250.98,252.47 250.92,252.73C250.85,252.99 250.79,253.19 250.68,253.44C250.58,253.70 250.49,253.90 250.34,254.16C250.19,254.41 250.07,254.61 249.85,254.87C249.63,255.13 249.65,255.33 249.13,255.59C248.62,255.84 247.38,255.58 247.00,256.30C246.62,257.02 246.79,258.87 247.00,259.60C247.21,260.33 247.67,260.12 248.16,260.35C248.66,260.58 249.32,260.74 249.76,260.88C250.20,261.01 251.96,261.06 250.60,261.10C249.24,261.14 243.56,261.14 242.20,261.10C240.84,261.06 242.60,261.01 243.04,260.88C243.48,260.74 244.14,260.58 244.64,260.35C245.13,260.12 245.59,260.33 245.80,259.60C246.01,258.87 246.18,257.02 245.80,256.30C245.42,255.58 244.18,255.84 243.67,255.59C243.15,255.33 243.17,255.13 242.95,254.87C242.73,254.61 242.61,254.41 242.46,254.16C242.31,253.90 242.22,253.70 242.12,253.44C242.01,253.19 241.95,252.99 241.88,252.73C241.82,252.47 241.78,252.27 241.75,252.01C241.71,251.76 241.71,252.08 241.70,251.30C241.69,250.52 241.67,248.27 241.70,247.70C241.73,247.13 241.74,248.31 241.84,248.14C241.94,247.98 242.06,247.27 242.25,246.79C242.44,246.30 242.63,245.92 242.90,245.43C243.17,244.94 243.41,244.56 243.73,244.07C244.05,243.58 244.33,243.20 244.67,242.71C245.01,242.23 245.32,241.85 245.62,241.36C245.93,240.87 246.20,240.24 246.35,240.00C246.50,239.76 246.43,240.00 246.45,240.00Z" fill="#e41a1c" stroke="#0a0a0a" stroke-width="0.65" stroke-linejoin="round"/>
<path d="M257.68,236.20V262.00" stroke="#444" stroke-width="0.9" fill="none"/>
<path d="M257.73,238.50C257.94,238.71 258.50,239.23 258.91,239.64C259.31,240.05 259.63,240.37 259.99,240.79C260.36,241.20 260.63,241.52 260.94,241.93C261.25,242.34 261.47,242.66 261.72,243.07C261.96,243.48 262.13,243.80 262.30,244.21C262.47,244.63 262.57,245.16 262.66,245.36C262.75,245.55 262.76,244.88 262.78,245.30C262.80,245.72 262.79,247.10 262.78,247.70C262.77,248.30 262.76,248.29 262.70,248.61C262.65,248.94 262.58,249.20 262.47,249.53C262.36,249.86 262.25,250.11 262.08,250.44C261.92,250.77 261.76,251.03 261.53,251.36C261.30,251.69 261.11,251.94 260.80,252.27C260.50,252.60 260.33,252.86 259.84,253.19C259.34,253.51 258.35,252.86 258.03,254.10C257.71,255.34 257.99,258.93 258.03,260.10C258.07,261.27 258.10,260.45 258.23,260.60C258.35,260.75 258.58,260.86 258.72,260.95C258.86,261.04 259.40,261.07 258.98,261.10C258.56,261.13 256.80,261.13 256.38,261.10C255.96,261.07 256.50,261.04 256.64,260.95C256.78,260.86 257.01,260.75 257.13,260.60C257.26,260.45 257.29,261.27 257.33,260.10C257.37,258.93 257.65,255.34 257.33,254.10C257.01,252.86 256.02,253.51 255.52,253.19C255.03,252.86 254.86,252.60 254.56,252.27C254.25,251.94 254.06,251.69 253.83,251.36C253.60,251.03 253.44,250.77 253.28,250.44C253.11,250.11 253.00,249.86 252.89,249.53C252.78,249.20 252.71,248.94 252.66,248.61C252.60,248.29 252.59,248.30 252.58,247.70C252.57,247.10 252.56,245.72 252.58,245.30C252.60,244.88 252.61,245.55 252.70,245.36C252.79,245.16 252.89,244.63 253.06,244.21C253.23,243.80 253.40,243.48 253.64,243.07C253.89,242.66 254.11,242.34 254.42,241.93C254.73,241.52 255.00,241.20 255.37,240.79C255.73,240.37 256.05,240.05 256.45,239.64C256.86,239.23 257.40,238.71 257.63,238.50C257.86,238.29 257.71,238.50 257.73,238.50Z" fill="#377eb8" stroke="#0a0a0a" stroke-width="0.65" stroke-linejoin="round"/>
<path d="M268.96,235.00V262.00" stroke="#444" stroke-width="0.9" fill="none"/>
<path d="M269.01,239.50C269.09,239.73 269.23,240.31 269.46,240.77C269.69,241.23 269.98,241.59 270.30,242.04C270.63,242.50 270.92,242.86 271.25,243.31C271.59,243.77 271.86,244.13 272.16,244.59C272.46,245.04 272.68,245.40 272.90,245.86C273.13,246.31 273.27,246.67 273.39,247.13C273.51,247.59 273.56,247.96 273.56,248.40C273.56,248.84 273.51,249.15 273.40,249.57C273.29,249.99 273.15,250.32 272.95,250.74C272.74,251.16 272.53,251.49 272.25,251.91C271.97,252.34 271.72,252.66 271.40,253.09C271.09,253.51 270.82,253.84 270.52,254.26C270.21,254.68 269.96,255.01 269.73,255.43C269.50,255.85 269.34,255.78 269.26,256.60C269.18,257.42 269.14,259.26 269.26,260.00C269.38,260.74 269.63,260.49 269.90,260.70C270.17,260.91 270.53,261.06 270.76,261.19C270.99,261.32 271.94,261.36 271.21,261.40C270.48,261.44 267.44,261.44 266.71,261.40C265.98,261.36 266.93,261.32 267.16,261.19C267.39,261.06 267.75,260.91 268.01,260.70C268.28,260.49 268.54,260.74 268.66,260.00C268.78,259.26 268.74,257.42 268.66,256.60C268.58,255.78 268.42,255.85 268.19,255.43C267.96,255.01 267.71,254.68 267.40,254.26C267.10,253.84 266.83,253.51 266.52,253.09C266.20,252.66 265.95,252.34 265.67,251.91C265.39,251.49 265.18,251.16 264.97,250.74C264.77,250.32 264.63,249.99 264.52,249.57C264.41,249.15 264.36,248.84 264.36,248.40C264.36,247.96 264.41,247.59 264.53,247.13C264.65,246.67 264.79,246.31 265.02,245.86C265.24,245.40 265.46,245.04 265.76,244.59C266.06,244.13 266.33,243.77 266.67,243.31C267.00,242.86 267.29,242.50 267.62,242.04C267.94,241.59 268.23,241.23 268.46,240.77C268.69,240.31 268.81,239.73 268.91,239.50C269.01,239.27 268.99,239.50 269.01,239.50Z" fill="#4daf4a" stroke="#0a0a0a" stroke-width="0.65" stroke-linejoin="round"/>
<path d="M280.24,238.00V262.00" stroke="#444" stroke-width="0.9" fill="none"/>
<path d="M280.29,239.50C280.37,239.66 280.51,240.09 280.75,240.41C280.99,240.74 281.28,241.00 281.61,241.33C281.94,241.66 282.24,241.91 282.58,242.24C282.92,242.57 283.21,242.83 283.51,243.16C283.81,243.49 284.04,243.74 284.27,244.07C284.50,244.40 284.65,244.66 284.77,244.99C284.89,245.31 284.94,245.52 284.94,245.90C284.94,246.28 284.88,246.68 284.75,247.11C284.62,247.55 284.45,247.89 284.21,248.33C283.96,248.77 283.72,249.11 283.40,249.54C283.09,249.98 282.79,250.32 282.46,250.76C282.13,251.19 281.84,251.53 281.54,251.97C281.25,252.41 281.01,252.75 280.82,253.19C280.63,253.62 280.55,253.17 280.49,254.40C280.43,255.63 280.40,258.87 280.49,260.00C280.58,261.13 280.77,260.49 280.98,260.70C281.18,260.91 281.46,261.06 281.64,261.19C281.82,261.32 282.56,261.36 281.99,261.40C281.42,261.44 279.06,261.44 278.49,261.40C277.92,261.36 278.66,261.32 278.84,261.19C279.02,261.06 279.30,260.91 279.50,260.70C279.71,260.49 279.90,261.13 279.99,260.00C280.08,258.87 280.05,255.63 279.99,254.40C279.93,253.17 279.85,253.62 279.66,253.19C279.47,252.75 279.23,252.41 278.94,251.97C278.64,251.53 278.35,251.19 278.02,250.76C277.69,250.32 277.39,249.98 277.08,249.54C276.76,249.11 276.52,248.77 276.27,248.33C276.03,247.89 275.86,247.55 275.73,247.11C275.60,246.68 275.54,246.28 275.54,245.90C275.54,245.52 275.59,245.31 275.71,244.99C275.83,244.66 275.98,244.40 276.21,244.07C276.44,243.74 276.67,243.49 276.97,243.16C277.27,242.83 277.56,242.57 277.90,242.24C278.24,241.91 278.54,241.66 278.87,241.33C279.20,241.00 279.49,240.74 279.73,240.41C279.97,240.09 280.09,239.66 280.19,239.50C280.29,239.34 280.27,239.50 280.29,239.50Z" fill="#9150b0" stroke="#0a0a0a" stroke-width="0.65" stroke-linejoin="round"/>
<path d="M291.52,238.00V262.00" stroke="#444" stroke-width="0.9" fill="none"/>
<path d="M291.57,238.80C291.63,239.00 291.69,239.52 291.88,239.93C292.08,240.33 292.35,240.65 292.67,241.06C292.99,241.46 293.30,241.78 293.67,242.19C294.03,242.59 294.35,242.91 294.69,243.31C295.04,243.72 295.31,244.04 295.57,244.44C295.84,244.85 296.02,245.17 296.16,245.57C296.31,245.98 296.37,246.26 296.37,246.70C296.37,247.14 296.31,247.55 296.17,248.03C296.04,248.51 295.86,248.88 295.61,249.36C295.36,249.84 295.10,250.21 294.78,250.69C294.45,251.16 294.15,251.54 293.81,252.01C293.46,252.49 293.16,252.86 292.86,253.34C292.55,253.82 292.31,254.19 292.11,254.67C291.92,255.15 291.83,255.04 291.77,256.00C291.71,256.96 291.68,259.15 291.77,260.00C291.86,260.85 292.05,260.49 292.25,260.70C292.46,260.91 292.74,261.06 292.92,261.19C293.10,261.32 293.84,261.36 293.27,261.40C292.70,261.44 290.34,261.44 289.77,261.40C289.20,261.36 289.94,261.32 290.12,261.19C290.30,261.06 290.58,260.91 290.78,260.70C290.99,260.49 291.18,260.85 291.27,260.00C291.36,259.15 291.33,256.96 291.27,256.00C291.21,255.04 291.12,255.15 290.93,254.67C290.73,254.19 290.49,253.82 290.18,253.34C289.88,252.86 289.58,252.49 289.23,252.01C288.89,251.54 288.59,251.16 288.26,250.69C287.94,250.21 287.68,249.84 287.43,249.36C287.18,248.88 287.00,248.51 286.87,248.03C286.73,247.55 286.67,247.14 286.67,246.70C286.67,246.26 286.73,245.98 286.88,245.57C287.02,245.17 287.20,244.85 287.47,244.44C287.73,244.04 288.00,243.72 288.35,243.31C288.69,242.91 289.01,242.59 289.37,242.19C289.74,241.78 290.05,241.46 290.37,241.06C290.69,240.65 290.96,240.33 291.16,239.93C291.35,239.52 291.40,239.00 291.47,238.80C291.54,238.60 291.55,238.80 291.57,238.80Z" fill="#f29403" stroke="#0a0a0a" stroke-width="0.65" stroke-linejoin="round"/>
<path d="M302.80,238.20V262.00" stroke="#444" stroke-width="0.9" fill="none"/>
<path d="M302.85,242.30C302.91,242.50 302.97,243.00 303.17,243.40C303.38,243.80 303.65,244.10 303.98,244.50C304.32,244.90 304.64,245.20 305.01,245.60C305.39,246.00 305.72,246.30 306.07,246.70C306.42,247.10 306.70,247.40 306.98,247.80C307.25,248.20 307.44,248.50 307.59,248.90C307.73,249.30 307.79,249.61 307.80,250.00C307.81,250.39 307.76,250.69 307.65,251.09C307.55,251.48 307.43,251.78 307.23,252.17C307.03,252.56 306.83,252.87 306.56,253.26C306.29,253.65 306.04,253.95 305.71,254.34C305.39,254.73 305.10,255.04 304.76,255.43C304.43,255.82 304.13,256.12 303.83,256.51C303.53,256.91 303.23,256.97 303.10,257.60C302.97,258.23 302.91,259.44 303.10,260.00C303.29,260.56 303.75,260.49 304.17,260.70C304.58,260.91 305.06,261.06 305.40,261.19C305.74,261.32 307.10,261.36 306.05,261.40C305.00,261.44 300.60,261.44 299.55,261.40C298.50,261.36 299.86,261.32 300.20,261.19C300.54,261.06 301.02,260.91 301.44,260.70C301.85,260.49 302.31,260.56 302.50,260.00C302.69,259.44 302.63,258.23 302.50,257.60C302.37,256.97 302.07,256.91 301.77,256.51C301.47,256.12 301.17,255.82 300.84,255.43C300.50,255.04 300.21,254.73 299.89,254.34C299.56,253.95 299.31,253.65 299.04,253.26C298.77,252.87 298.57,252.56 298.37,252.17C298.17,251.78 298.05,251.48 297.95,251.09C297.84,250.69 297.79,250.39 297.80,250.00C297.81,249.61 297.87,249.30 298.01,248.90C298.16,248.50 298.35,248.20 298.62,247.80C298.90,247.40 299.18,247.10 299.53,246.70C299.88,246.30 300.21,246.00 300.59,245.60C300.96,245.20 301.28,244.90 301.62,244.50C301.95,244.10 302.22,243.80 302.43,243.40C302.63,243.00 302.67,242.50 302.75,242.30C302.83,242.10 302.83,242.30 302.85,242.30Z" fill="#f781bf" stroke="#0a0a0a" stroke-width="0.65" stroke-linejoin="round"/>
<path d="M314.08,244.50V262.00" stroke="#444" stroke-width="0.9" fill="none"/>
<path d="M314.13,245.20C314.31,245.28 314.77,245.49 315.14,245.66C315.52,245.82 315.84,245.95 316.20,246.11C316.56,246.28 316.84,246.41 317.15,246.57C317.47,246.74 317.71,246.86 317.96,247.03C318.22,247.19 318.39,247.32 318.57,247.49C318.75,247.65 318.86,247.78 318.95,247.94C319.04,248.11 319.10,248.17 319.08,248.40C319.06,248.63 319.01,248.93 318.84,249.23C318.68,249.53 318.48,249.76 318.19,250.06C317.90,250.36 317.60,250.59 317.23,250.89C316.87,251.18 316.54,251.42 316.18,251.71C315.81,252.01 315.51,252.24 315.22,252.54C314.93,252.84 314.73,253.07 314.57,253.37C314.40,253.67 314.37,253.01 314.33,254.20C314.29,255.39 314.26,258.83 314.33,260.00C314.40,261.17 314.54,260.49 314.71,260.70C314.88,260.91 315.12,261.06 315.28,261.19C315.44,261.32 316.07,261.36 315.58,261.40C315.09,261.44 313.07,261.44 312.58,261.40C312.09,261.36 312.72,261.32 312.88,261.19C313.04,261.06 313.28,260.91 313.45,260.70C313.62,260.49 313.76,261.17 313.83,260.00C313.90,258.83 313.87,255.39 313.83,254.20C313.79,253.01 313.76,253.67 313.59,253.37C313.43,253.07 313.23,252.84 312.94,252.54C312.65,252.24 312.35,252.01 311.98,251.71C311.62,251.42 311.29,251.18 310.93,250.89C310.56,250.59 310.26,250.36 309.97,250.06C309.68,249.76 309.48,249.53 309.32,249.23C309.15,248.93 309.10,248.63 309.08,248.40C309.06,248.17 309.12,248.11 309.21,247.94C309.30,247.78 309.41,247.65 309.59,247.49C309.77,247.32 309.94,247.19 310.20,247.03C310.45,246.86 310.69,246.74 311.01,246.57C311.32,246.41 311.60,246.28 311.96,246.11C312.32,245.95 312.64,245.82 313.02,245.66C313.39,245.49 313.83,245.28 314.03,245.20C314.23,245.12 314.11,245.20 314.13,245.20Z" fill="#b99dd0" stroke="#0a0a0a" stroke-width="0.65" stroke-linejoin="round"/>
<path d="M325.76,247.60C326.08,247.94 327.00,248.53 327.56,249.50C328.12,250.47 328.45,251.65 328.86,253.00C329.27,254.35 329.59,255.49 329.86,257.00C330.13,258.51 332.07,260.61 330.36,261.40C328.65,262.19 322.07,262.19 320.36,261.40C318.65,260.61 320.59,258.51 320.86,257.00C321.13,255.49 321.45,254.35 321.86,253.00C322.27,251.65 322.60,250.47 323.16,249.50C323.72,248.53 324.49,247.94 324.96,247.60C325.43,247.26 325.62,247.60 325.76,247.60Z" fill="#a65628" stroke="#0a0a0a" stroke-width="0.65" stroke-linejoin="round"/>
<path d="M336.64,235.00V262.00" stroke="#444" stroke-width="0.9" fill="none"/>
<path d="M336.69,236.50C336.75,236.76 336.81,237.43 337.00,237.96C337.20,238.48 337.47,238.89 337.79,239.41C338.11,239.94 338.42,240.35 338.79,240.87C339.15,241.40 339.47,241.80 339.81,242.33C340.16,242.85 340.43,243.26 340.69,243.79C340.96,244.31 341.14,244.72 341.28,245.24C341.43,245.77 341.48,246.15 341.49,246.70C341.50,247.25 341.44,247.73 341.32,248.31C341.21,248.90 341.07,249.35 340.85,249.93C340.63,250.51 340.41,250.96 340.12,251.54C339.83,252.12 339.56,252.58 339.23,253.16C338.91,253.74 338.62,254.19 338.30,254.77C337.99,255.35 337.72,255.80 337.48,256.39C337.24,256.97 337.08,257.35 336.99,258.00C336.90,258.65 336.85,259.51 336.99,260.00C337.13,260.49 337.46,260.49 337.79,260.70C338.13,260.91 338.55,261.06 338.84,261.19C339.13,261.32 340.28,261.36 339.39,261.40C338.50,261.44 334.78,261.44 333.89,261.40C333.00,261.36 334.15,261.32 334.44,261.19C334.73,261.06 335.15,260.91 335.49,260.70C335.82,260.49 336.15,260.49 336.29,260.00C336.43,259.51 336.38,258.65 336.29,258.00C336.20,257.35 336.04,256.97 335.80,256.39C335.56,255.80 335.29,255.35 334.98,254.77C334.66,254.19 334.37,253.74 334.05,253.16C333.72,252.58 333.45,252.12 333.16,251.54C332.87,250.96 332.65,250.51 332.43,249.93C332.21,249.35 332.07,248.90 331.96,248.31C331.84,247.73 331.78,247.25 331.79,246.70C331.80,246.15 331.85,245.77 332.00,245.24C332.14,244.72 332.32,244.31 332.59,243.79C332.85,243.26 333.12,242.85 333.47,242.33C333.81,241.80 334.13,241.40 334.49,240.87C334.86,240.35 335.17,239.94 335.49,239.41C335.81,238.89 336.08,238.48 336.28,237.96C336.47,237.43 336.52,236.76 336.59,236.50C336.66,236.24 336.67,236.50 336.69,236.50Z" fill="#4ca9e0" stroke="#0a0a0a" stroke-width="0.65" stroke-linejoin="round"/>
<path d="M246.40,280.90V296.00" stroke="#444" stroke-width="0.9" fill="none"/>
<path d="M257.68,279.20V296.00" stroke="#444" stroke-width="0.9" fill="none"/>
<path d="M268.96,273.40V296.00" stroke="#444" stroke-width="0.9" fill="none"/>
<path d="M280.24,280.00V296.00" stroke="#444" stroke-width="0.9" fill="none"/>
<path d="M291.52,273.40V296.00" stroke="#444" stroke-width="0.9" fill="none"/>
<path d="M291.67,280.50C291.79,280.95 292.16,282.23 292.32,283.00C292.48,283.77 292.59,284.12 292.57,284.80C292.55,285.48 292.35,286.04 292.22,286.80C292.09,287.56 291.92,287.92 291.87,289.00C291.82,290.08 291.69,291.94 291.92,292.80C292.14,293.66 292.58,293.49 293.12,293.80C293.66,294.11 294.27,294.28 294.92,294.50C295.57,294.72 298.27,294.91 296.72,295.00C295.17,295.09 287.87,295.09 286.32,295.00C284.77,294.91 287.47,294.72 288.12,294.50C288.77,294.28 289.38,294.11 289.92,293.80C290.46,293.49 290.89,293.66 291.12,292.80C291.35,291.94 291.22,290.08 291.17,289.00C291.12,287.92 290.95,287.56 290.82,286.80C290.69,286.04 290.49,285.48 290.47,284.80C290.45,284.12 290.56,283.77 290.72,283.00C290.88,282.23 291.20,280.95 291.37,280.50C291.54,280.05 291.62,280.50 291.67,280.50Z" fill="#f29403" stroke="#0a0a0a" stroke-width="0.65" stroke-linejoin="round"/>
<path d="M302.80,282.60V296.00" stroke="#444" stroke-width="0.9" fill="none"/>
<path d="M314.38,283.90C314.60,284.06 315.11,284.35 315.58,284.80C316.05,285.25 316.53,285.75 316.98,286.40C317.43,287.05 317.76,287.68 318.08,288.40C318.39,289.12 318.63,289.75 318.73,290.40C318.83,291.05 318.84,291.50 318.63,292.00C318.42,292.50 317.77,292.82 317.58,293.20C317.39,293.58 317.36,293.78 317.58,294.10C317.80,294.42 320.26,294.84 318.78,295.00C317.30,295.16 310.86,295.16 309.38,295.00C307.90,294.84 310.36,294.42 310.58,294.10C310.80,293.78 310.77,293.58 310.58,293.20C310.39,292.82 309.74,292.50 309.53,292.00C309.32,291.50 309.33,291.05 309.43,290.40C309.53,289.75 309.76,289.12 310.08,288.40C310.39,287.68 310.73,287.05 311.18,286.40C311.63,285.75 312.11,285.25 312.58,284.80C313.05,284.35 313.46,284.06 313.78,283.90C314.10,283.74 314.27,283.90 314.38,283.90Z" fill="#b99dd0" stroke="#0a0a0a" stroke-width="0.65" stroke-linejoin="round"/>
<path d="M325.36,292.80V296.00" stroke="#444" stroke-width="0.9" fill="none"/>
<path d="M336.64,271.70V296.00" stroke="#444" stroke-width="0.9" fill="none"/>
<path d="M246.40,311.50V330.10" stroke="#444" stroke-width="0.9" fill="none"/>
<path d="M246.50,312.30C246.75,313.15 247.44,315.45 247.90,317.00C248.36,318.55 249.01,319.82 249.05,320.90C249.09,321.98 248.49,322.33 248.10,323.00C247.71,323.67 247.12,323.81 246.90,324.60C246.68,325.39 246.54,326.70 246.85,327.40C247.16,328.10 247.78,328.12 248.60,328.50C249.42,328.88 252.70,329.32 251.40,329.50C250.10,329.68 242.70,329.68 241.40,329.50C240.10,329.32 243.38,328.88 244.20,328.50C245.02,328.12 245.64,328.10 245.95,327.40C246.26,326.70 246.12,325.39 245.90,324.60C245.68,323.81 245.09,323.67 244.70,323.00C244.31,322.33 243.71,321.98 243.75,320.90C243.79,319.82 244.44,318.55 244.90,317.00C245.36,315.45 246.01,313.15 246.30,312.30C246.59,311.45 246.46,312.30 246.50,312.30Z" fill="#e41a1c" stroke="#0a0a0a" stroke-width="0.65" stroke-linejoin="round"/>
<path d="M257.68,310.00V330.10" stroke="#444" stroke-width="0.9" fill="none"/>
<path d="M257.78,311.50C257.96,312.49 258.42,315.31 258.78,317.00C259.14,318.69 259.74,319.82 259.78,320.90C259.82,321.98 259.28,322.33 258.98,323.00C258.68,323.67 258.28,323.81 258.13,324.60C257.98,325.39 257.81,326.70 258.13,327.40C258.44,328.10 259.06,328.12 259.88,328.50C260.70,328.88 263.98,329.32 262.68,329.50C261.38,329.68 253.98,329.68 252.68,329.50C251.38,329.32 254.66,328.88 255.48,328.50C256.30,328.12 256.92,328.10 257.23,327.40C257.55,326.70 257.38,325.39 257.23,324.60C257.08,323.81 256.68,323.67 256.38,323.00C256.08,322.33 255.54,321.98 255.58,320.90C255.62,319.82 256.22,318.69 256.58,317.00C256.94,315.31 257.36,312.49 257.58,311.50C257.80,310.51 257.74,311.50 257.78,311.50Z" fill="#377eb8" stroke="#0a0a0a" stroke-width="0.65" stroke-linejoin="round"/>
<path d="M268.96,309.20V330.10" stroke="#444" stroke-width="0.9" fill="none"/>
<path d="M269.01,311.80C269.08,311.97 269.16,312.42 269.38,312.77C269.60,313.12 269.90,313.39 270.25,313.74C270.60,314.09 270.93,314.36 271.32,314.71C271.71,315.06 272.04,315.34 272.40,315.69C272.77,316.04 273.05,316.31 273.33,316.66C273.60,317.01 273.79,317.28 273.94,317.63C274.09,317.98 274.16,318.22 274.16,318.60C274.16,318.98 274.10,319.33 273.97,319.74C273.83,320.15 273.67,320.47 273.42,320.89C273.17,321.30 272.92,321.62 272.59,322.03C272.26,322.44 271.95,322.76 271.59,323.17C271.23,323.58 270.92,323.90 270.58,324.31C270.24,324.73 269.96,325.05 269.72,325.46C269.48,325.87 269.34,326.12 269.26,326.60C269.18,327.08 269.12,327.70 269.26,328.10C269.39,328.50 269.70,328.59 270.01,328.80C270.32,329.01 270.70,329.16 270.96,329.29C271.22,329.42 272.27,329.46 271.46,329.50C270.65,329.54 267.27,329.54 266.46,329.50C265.65,329.46 266.70,329.42 266.96,329.29C267.22,329.16 267.60,329.01 267.91,328.80C268.22,328.59 268.52,328.50 268.66,328.10C268.79,327.70 268.74,327.08 268.66,326.60C268.58,326.12 268.44,325.87 268.20,325.46C267.96,325.05 267.68,324.73 267.34,324.31C267.00,323.90 266.69,323.58 266.33,323.17C265.97,322.76 265.66,322.44 265.33,322.03C265.00,321.62 264.75,321.30 264.50,320.89C264.25,320.47 264.09,320.15 263.95,319.74C263.82,319.33 263.76,318.98 263.76,318.60C263.76,318.22 263.83,317.98 263.98,317.63C264.13,317.28 264.32,317.01 264.59,316.66C264.87,316.31 265.15,316.04 265.52,315.69C265.88,315.34 266.21,315.06 266.60,314.71C266.99,314.36 267.32,314.09 267.67,313.74C268.02,313.39 268.32,313.12 268.54,312.77C268.76,312.42 268.83,311.97 268.91,311.80C268.99,311.63 268.99,311.80 269.01,311.80Z" fill="#4daf4a" stroke="#0a0a0a" stroke-width="0.65" stroke-linejoin="round"/>
<path d="M280.24,312.00V330.10" stroke="#444" stroke-width="0.9" fill="none"/>
<path d="M280.29,312.80C280.36,313.00 280.44,313.51 280.66,313.91C280.88,314.32 281.18,314.63 281.53,315.03C281.88,315.43 282.21,315.74 282.60,316.14C282.99,316.54 283.32,316.86 283.68,317.26C284.05,317.66 284.33,317.97 284.61,318.37C284.88,318.77 285.07,319.08 285.22,319.49C285.37,319.89 285.44,320.22 285.44,320.60C285.44,320.98 285.38,321.22 285.25,321.57C285.11,321.92 284.95,322.19 284.70,322.54C284.45,322.89 284.20,323.16 283.87,323.51C283.54,323.86 283.23,324.14 282.87,324.49C282.51,324.84 282.20,325.11 281.86,325.46C281.52,325.81 281.24,326.08 281.00,326.43C280.76,326.78 280.62,327.10 280.54,327.40C280.46,327.70 280.37,327.85 280.54,328.10C280.71,328.35 281.12,328.59 281.50,328.80C281.88,329.01 282.33,329.16 282.64,329.29C282.95,329.42 284.21,329.46 283.24,329.50C282.27,329.54 278.21,329.54 277.24,329.50C276.27,329.46 277.53,329.42 277.84,329.29C278.15,329.16 278.60,329.01 278.98,328.80C279.36,328.59 279.77,328.35 279.94,328.10C280.11,327.85 280.02,327.70 279.94,327.40C279.86,327.10 279.72,326.78 279.48,326.43C279.24,326.08 278.96,325.81 278.62,325.46C278.28,325.11 277.97,324.84 277.61,324.49C277.25,324.14 276.94,323.86 276.61,323.51C276.28,323.16 276.03,322.89 275.78,322.54C275.53,322.19 275.37,321.92 275.23,321.57C275.10,321.22 275.04,320.98 275.04,320.60C275.04,320.22 275.11,319.89 275.26,319.49C275.41,319.08 275.60,318.77 275.87,318.37C276.15,317.97 276.43,317.66 276.80,317.26C277.16,316.86 277.49,316.54 277.88,316.14C278.27,315.74 278.60,315.43 278.95,315.03C279.30,314.63 279.60,314.32 279.82,313.91C280.04,313.51 280.11,313.00 280.19,312.80C280.27,312.60 280.27,312.80 280.29,312.80Z" fill="#9150b0" stroke="#0a0a0a" stroke-width="0.65" stroke-linejoin="round"/>
<path d="M291.52,310.90V330.10" stroke="#444" stroke-width="0.9" fill="none"/>
<path d="M291.67,316.00C291.79,316.54 292.12,318.10 292.32,319.00C292.52,319.90 292.77,320.28 292.77,321.00C292.77,321.72 292.47,322.28 292.32,323.00C292.17,323.72 291.98,324.21 291.92,325.00C291.86,325.79 291.65,326.77 291.97,327.40C292.29,328.03 292.86,328.12 293.72,328.50C294.57,328.88 298.05,329.32 296.72,329.50C295.39,329.68 287.65,329.68 286.32,329.50C284.99,329.32 288.46,328.88 289.32,328.50C290.18,328.12 290.75,328.03 291.07,327.40C291.39,326.77 291.18,325.79 291.12,325.00C291.06,324.21 290.87,323.72 290.72,323.00C290.57,322.28 290.27,321.72 290.27,321.00C290.27,320.28 290.52,319.90 290.72,319.00C290.92,318.10 291.20,316.54 291.37,316.00C291.54,315.46 291.62,316.00 291.67,316.00Z" fill="#f29403" stroke="#0a0a0a" stroke-width="0.65" stroke-linejoin="round"/>
<path d="M302.80,313.40V330.10" stroke="#444" stroke-width="0.9" fill="none"/>
<path d="M302.95,317.00C303.12,317.54 303.62,319.10 303.90,320.00C304.18,320.90 304.50,321.28 304.50,322.00C304.50,322.72 304.13,323.35 303.90,324.00C303.68,324.65 303.37,324.99 303.25,325.60C303.13,326.21 302.94,326.88 303.25,327.40C303.56,327.92 304.18,328.12 305.00,328.50C305.82,328.88 309.10,329.32 307.80,329.50C306.50,329.68 299.10,329.68 297.80,329.50C296.50,329.32 299.78,328.88 300.60,328.50C301.42,328.12 302.04,327.92 302.35,327.40C302.67,326.88 302.47,326.21 302.35,325.60C302.23,324.99 301.93,324.65 301.70,324.00C301.47,323.35 301.10,322.72 301.10,322.00C301.10,321.28 301.42,320.90 301.70,320.00C301.98,319.10 302.43,317.54 302.65,317.00C302.88,316.46 302.90,317.00 302.95,317.00Z" fill="#f781bf" stroke="#0a0a0a" stroke-width="0.65" stroke-linejoin="round"/>
<path d="M314.08,315.50V330.10" stroke="#444" stroke-width="0.9" fill="none"/>
<path d="M314.13,315.70C314.19,315.88 314.25,316.33 314.47,316.69C314.68,317.04 314.96,317.32 315.30,317.67C315.64,318.03 315.97,318.30 316.36,318.66C316.75,319.01 317.08,319.29 317.45,319.64C317.81,320.00 318.10,320.27 318.38,320.63C318.66,320.98 318.86,321.26 319.01,321.61C319.16,321.97 319.23,322.27 319.23,322.60C319.23,322.93 319.17,323.15 319.02,323.46C318.87,323.77 318.69,324.01 318.42,324.31C318.16,324.62 317.88,324.86 317.53,325.17C317.19,325.48 316.87,325.72 316.50,326.03C316.13,326.34 315.81,326.58 315.49,326.89C315.17,327.19 314.91,327.43 314.70,327.74C314.49,328.05 314.33,328.36 314.33,328.60C314.33,328.84 314.54,328.91 314.71,329.05C314.88,329.19 315.12,329.28 315.28,329.37C315.44,329.45 316.07,329.48 315.58,329.50C315.09,329.52 313.07,329.52 312.58,329.50C312.09,329.48 312.72,329.45 312.88,329.37C313.04,329.28 313.28,329.19 313.45,329.05C313.62,328.91 313.83,328.84 313.83,328.60C313.83,328.36 313.67,328.05 313.46,327.74C313.25,327.43 312.99,327.19 312.67,326.89C312.35,326.58 312.03,326.34 311.66,326.03C311.29,325.72 310.97,325.48 310.63,325.17C310.28,324.86 310.00,324.62 309.74,324.31C309.47,324.01 309.29,323.77 309.14,323.46C308.99,323.15 308.93,322.93 308.93,322.60C308.93,322.27 309.00,321.97 309.15,321.61C309.30,321.26 309.50,320.98 309.78,320.63C310.06,320.27 310.35,320.00 310.71,319.64C311.08,319.29 311.41,319.01 311.80,318.66C312.19,318.30 312.52,318.03 312.86,317.67C313.20,317.32 313.48,317.04 313.69,316.69C313.91,316.33 313.95,315.88 314.03,315.70C314.11,315.52 314.11,315.70 314.13,315.70Z" fill="#b99dd0" stroke="#0a0a0a" stroke-width="0.65" stroke-linejoin="round"/>
<path d="M326.16,320.70C326.50,320.83 327.61,320.95 328.06,321.40C328.51,321.85 328.62,322.55 328.66,323.20C328.70,323.85 328.40,324.44 328.26,325.00C328.12,325.56 327.73,325.83 327.86,326.30C327.99,326.77 328.53,327.15 328.96,327.60C329.39,328.05 329.97,328.46 330.26,328.80C330.55,329.14 332.38,329.37 330.56,329.50C328.74,329.63 321.98,329.63 320.16,329.50C318.34,329.37 320.17,329.14 320.46,328.80C320.75,328.46 321.33,328.05 321.76,327.60C322.19,327.15 322.73,326.77 322.86,326.30C322.99,325.83 322.60,325.56 322.46,325.00C322.32,324.44 322.02,323.85 322.06,323.20C322.10,322.55 322.21,321.85 322.66,321.40C323.11,320.95 323.93,320.83 324.56,320.70C325.19,320.57 325.87,320.70 326.16,320.70Z" fill="#a65628" stroke="#0a0a0a" stroke-width="0.65" stroke-linejoin="round"/>
<path d="M336.64,304.20V330.10" stroke="#444" stroke-width="0.9" fill="none"/>
<path d="M336.76,310.00C336.90,311.08 337.09,314.29 337.54,316.00C337.99,317.71 338.73,318.46 339.24,319.50C339.75,320.54 340.41,320.99 340.39,321.80C340.37,322.61 339.60,323.24 339.14,324.00C338.68,324.76 338.04,325.39 337.84,326.00C337.64,326.61 337.61,326.93 338.04,327.40C338.47,327.87 339.59,328.22 340.24,328.60C340.89,328.98 343.19,329.34 341.64,329.50C340.09,329.66 333.19,329.66 331.64,329.50C330.09,329.34 332.39,328.98 333.04,328.60C333.69,328.22 334.81,327.87 335.24,327.40C335.67,326.93 335.64,326.61 335.44,326.00C335.24,325.39 334.60,324.76 334.14,324.00C333.68,323.24 332.91,322.61 332.89,321.80C332.87,320.99 333.53,320.54 334.04,319.50C334.55,318.46 335.29,317.71 335.74,316.00C336.19,314.29 336.34,311.08 336.52,310.00C336.70,308.92 336.72,310.00 336.76,310.00Z" fill="#4ca9e0" stroke="#0a0a0a" stroke-width="0.65" stroke-linejoin="round"/>
<path d="M239.4,227.5H342.3" stroke="#939393" stroke-width="2.1" fill="none"/>
<path d="M239.4,262.0H342.3" stroke="#484848" stroke-width="1.2" fill="none"/>
<path d="M239.4,296.0H342.3" stroke="#939393" stroke-width="2.1" fill="none"/>
<path d="M239.4,330.1H342.3" stroke="#484848" stroke-width="1.2" fill="none"/>
<path d="M240.1,194.4V330.70000000000005" stroke="#5c5c5c" stroke-width="1.1" fill="none"/>
<text x="235.3" y="195.80" font-size="2.3" text-anchor="end">LGALS9</text>
<text x="238.3" y="195.70" font-size="1.8" text-anchor="end" fill="#444">4</text>
<text x="235.3" y="230.30" font-size="2.3" text-anchor="end">PTPRC</text>
<text x="238.3" y="230.20" font-size="1.8" text-anchor="end" fill="#444">4</text>
<text x="235.3" y="264.80" font-size="2.3" text-anchor="end">HAVCR2</text>
<text x="238.3" y="264.70" font-size="1.8" text-anchor="end" fill="#444">4</text>
<text x="235.3" y="298.80" font-size="2.3" text-anchor="end">CD44</text>
<text x="238.3" y="298.70" font-size="1.8" text-anchor="end" fill="#444">4</text>
<path d="M246.40,330.70000000000005v2" stroke="#555" stroke-width="0.5"/>
<text x="247.15" y="333.4" font-size="2.25" text-anchor="end" style="fill:#484848" transform="rotate(-90 247.15 333.4)">CD4+ T</text>
<path d="M257.68,330.70000000000005v2" stroke="#555" stroke-width="0.5"/>
<text x="258.43" y="333.4" font-size="2.25" text-anchor="end" style="fill:#484848" transform="rotate(-90 258.43 333.4)">CD8+ T</text>
<path d="M268.96,330.70000000000005v2" stroke="#555" stroke-width="0.5"/>
<text x="269.71" y="333.4" font-size="2.25" text-anchor="end" style="fill:#484848" transform="rotate(-90 269.71 333.4)">CD14+ mono</text>
<path d="M280.24,330.70000000000005v2" stroke="#555" stroke-width="0.5"/>
<text x="280.99" y="333.4" font-size="2.25" text-anchor="end" style="fill:#484848" transform="rotate(-90 280.99 333.4)">FCGR3A+ mono</text>
<path d="M291.52,330.70000000000005v2" stroke="#555" stroke-width="0.5"/>
<text x="292.27" y="333.4" font-size="2.25" text-anchor="end" style="fill:#484848" transform="rotate(-90 292.27 333.4)">NK</text>
<path d="M302.80,330.70000000000005v2" stroke="#555" stroke-width="0.5"/>
<text x="303.55" y="333.4" font-size="2.25" text-anchor="end" style="fill:#484848" transform="rotate(-90 303.55 333.4)">B</text>
<path d="M314.08,330.70000000000005v2" stroke="#555" stroke-width="0.5"/>
<text x="314.83" y="333.4" font-size="2.25" text-anchor="end" style="fill:#484848" transform="rotate(-90 314.83 333.4)">DC</text>
<path d="M325.36,330.70000000000005v2" stroke="#555" stroke-width="0.5"/>
<text x="326.11" y="333.4" font-size="2.25" text-anchor="end" style="fill:#484848" transform="rotate(-90 326.11 333.4)">platelet</text>
<path d="M336.64,330.70000000000005v2" stroke="#555" stroke-width="0.5"/>
<text x="337.39" y="333.4" font-size="2.25" text-anchor="end" style="fill:#484848" transform="rotate(-90 337.39 333.4)">mixed</text>
<text class="gl" x="281.0" y="363.0" font-size="9.8">RA</text>
</g>
<g>
<path d="M246.40,379.70V408.40" stroke="#444" stroke-width="0.9" fill="none"/>
<path d="M257.68,390.50V408.40" stroke="#444" stroke-width="0.9" fill="none"/>
<path d="M268.96,380.70V408.40" stroke="#444" stroke-width="0.9" fill="none"/>
<path d="M269.01,385.50C269.03,385.78 269.03,386.49 269.14,387.04C269.25,387.60 269.42,388.03 269.64,388.59C269.86,389.14 270.09,389.57 270.36,390.13C270.63,390.68 270.89,391.12 271.16,391.67C271.43,392.23 271.66,392.66 271.88,393.21C272.10,393.77 272.26,394.20 272.38,394.76C272.50,395.31 272.55,395.81 272.56,396.30C272.57,396.79 272.52,397.05 272.44,397.47C272.36,397.89 272.26,398.22 272.10,398.64C271.95,399.06 271.79,399.39 271.59,399.81C271.38,400.24 271.19,400.56 270.95,400.99C270.72,401.41 270.52,401.74 270.29,402.16C270.07,402.58 269.88,402.91 269.71,403.33C269.54,403.75 269.42,404.02 269.36,404.50C269.30,404.98 269.17,405.60 269.36,406.00C269.55,406.40 270.00,406.49 270.43,406.70C270.86,406.91 271.39,407.06 271.76,407.19C272.13,407.32 273.59,407.36 272.46,407.40C271.33,407.44 266.59,407.44 265.46,407.40C264.33,407.36 265.79,407.32 266.16,407.19C266.53,407.06 267.06,406.91 267.49,406.70C267.92,406.49 268.37,406.40 268.56,406.00C268.75,405.60 268.62,404.98 268.56,404.50C268.50,404.02 268.38,403.75 268.21,403.33C268.04,402.91 267.85,402.58 267.63,402.16C267.40,401.74 267.20,401.41 266.97,400.99C266.73,400.56 266.54,400.24 266.33,399.81C266.13,399.39 265.97,399.06 265.82,398.64C265.66,398.22 265.56,397.89 265.48,397.47C265.40,397.05 265.35,396.79 265.36,396.30C265.37,395.81 265.42,395.31 265.54,394.76C265.66,394.20 265.82,393.77 266.04,393.21C266.26,392.66 266.49,392.23 266.76,391.67C267.03,391.12 267.29,390.68 267.56,390.13C267.83,389.57 268.06,389.14 268.28,388.59C268.50,388.03 268.67,387.60 268.78,387.04C268.89,386.49 268.87,385.78 268.91,385.50C268.95,385.22 268.99,385.50 269.01,385.50Z" fill="#4daf4a" stroke="#0a0a0a" stroke-width="0.65" stroke-linejoin="round"/>
<path d="M280.24,378.80V408.40" stroke="#444" stroke-width="0.9" fill="none"/>
<path d="M280.29,383.50C280.32,383.78 280.32,384.50 280.48,385.06C280.64,385.62 280.86,386.05 281.15,386.61C281.45,387.17 281.76,387.61 282.13,388.17C282.49,388.73 282.84,389.17 283.20,389.73C283.57,390.29 283.88,390.73 284.18,391.29C284.47,391.85 284.69,392.28 284.85,392.84C285.01,393.40 285.08,393.85 285.09,394.40C285.10,394.95 285.03,395.35 284.90,395.89C284.77,396.42 284.61,396.84 284.37,397.37C284.13,397.91 283.88,398.32 283.57,398.86C283.26,399.39 282.97,399.81 282.64,400.34C282.31,400.88 282.02,401.29 281.73,401.83C281.44,402.36 281.21,402.78 281.02,403.31C280.83,403.85 280.75,404.32 280.69,404.80C280.63,405.28 280.66,405.66 280.69,406.00C280.72,406.34 280.74,406.49 280.87,406.70C281.00,406.91 281.28,407.06 281.44,407.19C281.60,407.32 282.23,407.36 281.74,407.40C281.25,407.44 279.23,407.44 278.74,407.40C278.25,407.36 278.88,407.32 279.04,407.19C279.20,407.06 279.48,406.91 279.61,406.70C279.75,406.49 279.76,406.34 279.79,406.00C279.82,405.66 279.85,405.28 279.79,404.80C279.73,404.32 279.65,403.85 279.46,403.31C279.27,402.78 279.04,402.36 278.75,401.83C278.46,401.29 278.17,400.88 277.84,400.34C277.51,399.81 277.22,399.39 276.91,398.86C276.60,398.32 276.35,397.91 276.11,397.37C275.87,396.84 275.71,396.42 275.58,395.89C275.45,395.35 275.38,394.95 275.39,394.40C275.40,393.85 275.47,393.40 275.63,392.84C275.79,392.28 276.01,391.85 276.30,391.29C276.60,390.73 276.91,390.29 277.28,389.73C277.64,389.17 277.99,388.73 278.35,388.17C278.72,387.61 279.03,387.17 279.33,386.61C279.62,386.05 279.84,385.62 280.00,385.06C280.16,384.50 280.14,383.78 280.19,383.50C280.24,383.22 280.27,383.50 280.29,383.50Z" fill="#9150b0" stroke="#0a0a0a" stroke-width="0.65" stroke-linejoin="round"/>
<path d="M291.52,388.50V408.40" stroke="#444" stroke-width="0.9" fill="none"/>
<path d="M302.80,385.60V408.40" stroke="#444" stroke-width="0.9" fill="none"/>
<path d="M314.08,381.70V408.40" stroke="#444" stroke-width="0.9" fill="none"/>
<path d="M314.23,388.00C314.35,388.72 314.56,390.65 314.88,392.00C315.19,393.35 315.48,394.20 315.98,395.50C316.48,396.80 317.32,397.85 317.68,399.20C318.04,400.55 318.03,401.90 317.98,403.00C317.93,404.10 317.43,404.69 317.38,405.30C317.33,405.91 317.50,406.02 317.68,406.40C317.86,406.78 319.80,407.22 318.38,407.40C316.96,407.58 311.20,407.58 309.78,407.40C308.36,407.22 310.30,406.78 310.48,406.40C310.66,406.02 310.83,405.91 310.78,405.30C310.73,404.69 310.23,404.10 310.18,403.00C310.13,401.90 310.12,400.55 310.48,399.20C310.84,397.85 311.68,396.80 312.18,395.50C312.68,394.20 312.96,393.35 313.28,392.00C313.59,390.65 313.76,388.72 313.93,388.00C314.10,387.28 314.18,388.00 314.23,388.00Z" fill="#b99dd0" stroke="#0a0a0a" stroke-width="0.65" stroke-linejoin="round"/>
<path d="M325.36,378.20V408.40" stroke="#444" stroke-width="0.9" fill="none"/>
<path d="M336.64,377.40V408.40" stroke="#444" stroke-width="0.9" fill="none"/>
<path d="M246.40,420.00V443.00" stroke="#444" stroke-width="0.9" fill="none"/>
<path d="M246.45,422.50C246.54,422.69 246.68,423.19 246.93,423.57C247.18,423.96 247.48,424.26 247.82,424.64C248.16,425.03 248.46,425.33 248.82,425.71C249.17,426.10 249.46,426.40 249.77,426.79C250.09,427.17 250.33,427.47 250.56,427.86C250.79,428.24 250.95,428.54 251.07,428.93C251.20,429.31 251.25,429.61 251.25,430.00C251.25,430.39 251.19,430.69 251.05,431.09C250.92,431.48 250.74,431.78 250.49,432.17C250.24,432.56 249.98,432.87 249.66,433.26C249.33,433.65 249.03,433.95 248.69,434.34C248.34,434.73 248.04,435.04 247.74,435.43C247.43,435.82 247.19,436.12 246.99,436.51C246.80,436.91 246.71,436.79 246.65,437.60C246.59,438.41 246.58,440.26 246.65,441.00C246.72,441.74 246.86,441.49 247.03,441.70C247.20,441.91 247.44,442.06 247.60,442.19C247.76,442.32 248.39,442.36 247.90,442.40C247.41,442.44 245.39,442.44 244.90,442.40C244.41,442.36 245.04,442.32 245.20,442.19C245.36,442.06 245.60,441.91 245.77,441.70C245.94,441.49 246.08,441.74 246.15,441.00C246.22,440.26 246.21,438.41 246.15,437.60C246.09,436.79 246.00,436.91 245.81,436.51C245.61,436.12 245.37,435.82 245.06,435.43C244.76,435.04 244.46,434.73 244.11,434.34C243.77,433.95 243.47,433.65 243.14,433.26C242.82,432.87 242.56,432.56 242.31,432.17C242.06,431.78 241.88,431.48 241.75,431.09C241.61,430.69 241.55,430.39 241.55,430.00C241.55,429.61 241.60,429.31 241.73,428.93C241.85,428.54 242.01,428.24 242.24,427.86C242.47,427.47 242.71,427.17 243.03,426.79C243.34,426.40 243.63,426.10 243.98,425.71C244.34,425.33 244.64,425.03 244.98,424.64C245.32,424.26 245.62,423.96 245.87,423.57C246.12,423.19 246.25,422.69 246.35,422.50C246.45,422.31 246.43,422.50 246.45,422.50Z" fill="#e41a1c" stroke="#0a0a0a" stroke-width="0.65" stroke-linejoin="round"/>
<path d="M257.68,420.90V443.00" stroke="#444" stroke-width="0.9" fill="none"/>
<path d="M257.73,421.50C257.82,421.68 257.97,422.13 258.23,422.49C258.48,422.84 258.79,423.12 259.14,423.47C259.49,423.83 259.81,424.10 260.17,424.46C260.54,424.81 260.84,425.09 261.16,425.44C261.48,425.80 261.73,426.07 261.97,426.43C262.21,426.78 262.37,427.06 262.50,427.41C262.62,427.77 262.68,428.01 262.68,428.40C262.68,428.79 262.62,429.17 262.48,429.60C262.34,430.03 262.16,430.37 261.90,430.80C261.64,431.23 261.37,431.57 261.04,432.00C260.70,432.43 260.39,432.77 260.03,433.20C259.68,433.63 259.37,433.97 259.06,434.40C258.74,434.83 258.49,435.17 258.29,435.60C258.08,436.03 257.99,435.83 257.93,436.80C257.87,437.77 257.86,440.12 257.93,441.00C258.00,441.88 258.14,441.49 258.31,441.70C258.48,441.91 258.72,442.06 258.88,442.19C259.04,442.32 259.67,442.36 259.18,442.40C258.69,442.44 256.67,442.44 256.18,442.40C255.69,442.36 256.32,442.32 256.48,442.19C256.64,442.06 256.88,441.91 257.05,441.70C257.22,441.49 257.36,441.88 257.43,441.00C257.50,440.12 257.49,437.77 257.43,436.80C257.37,435.83 257.28,436.03 257.07,435.60C256.87,435.17 256.62,434.83 256.30,434.40C255.99,433.97 255.68,433.63 255.33,433.20C254.97,432.77 254.66,432.43 254.32,432.00C253.99,431.57 253.72,431.23 253.46,430.80C253.20,430.37 253.02,430.03 252.88,429.60C252.74,429.17 252.68,428.79 252.68,428.40C252.68,428.01 252.74,427.77 252.86,427.41C252.99,427.06 253.15,426.78 253.39,426.43C253.63,426.07 253.88,425.80 254.20,425.44C254.52,425.09 254.82,424.81 255.19,424.46C255.55,424.10 255.87,423.83 256.22,423.47C256.57,423.12 256.88,422.84 257.13,422.49C257.39,422.13 257.52,421.68 257.63,421.50C257.74,421.32 257.71,421.50 257.73,421.50Z" fill="#377eb8" stroke="#0a0a0a" stroke-width="0.65" stroke-linejoin="round"/>
<path d="M268.96,421.70V443.00" stroke="#444" stroke-width="0.9" fill="none"/>
<path d="M269.01,423.40C269.16,423.51 269.54,423.78 269.85,424.00C270.17,424.22 270.43,424.38 270.74,424.60C271.04,424.82 271.28,424.98 271.54,425.20C271.81,425.42 272.01,425.58 272.22,425.80C272.43,426.02 272.58,426.18 272.73,426.40C272.88,426.62 272.97,426.78 273.05,427.00C273.13,427.22 273.17,427.36 273.16,427.60C273.15,427.84 273.12,428.08 273.01,428.34C272.91,428.61 272.79,428.82 272.60,429.09C272.41,429.35 272.21,429.56 271.96,429.83C271.70,430.10 271.47,430.30 271.18,430.57C270.89,430.84 270.64,431.05 270.36,431.31C270.09,431.58 269.85,431.79 269.64,432.06C269.43,432.32 269.29,431.19 269.21,432.80C269.13,434.41 269.16,439.40 269.21,441.00C269.26,442.60 269.35,441.49 269.48,441.70C269.62,441.91 269.83,442.06 269.96,442.19C270.09,442.32 270.61,442.36 270.21,442.40C269.81,442.44 268.11,442.44 267.71,442.40C267.31,442.36 267.83,442.32 267.96,442.19C268.09,442.06 268.30,441.91 268.44,441.70C268.57,441.49 268.66,442.60 268.71,441.00C268.76,439.40 268.79,434.41 268.71,432.80C268.63,431.19 268.49,432.32 268.28,432.06C268.07,431.79 267.83,431.58 267.56,431.31C267.28,431.05 267.03,430.84 266.74,430.57C266.45,430.30 266.22,430.10 265.96,429.83C265.71,429.56 265.51,429.35 265.32,429.09C265.13,428.82 265.01,428.61 264.91,428.34C264.80,428.08 264.77,427.84 264.76,427.60C264.75,427.36 264.79,427.22 264.87,427.00C264.95,426.78 265.04,426.62 265.19,426.40C265.34,426.18 265.49,426.02 265.70,425.80C265.91,425.58 266.11,425.42 266.38,425.20C266.64,424.98 266.88,424.82 267.18,424.60C267.49,424.38 267.75,424.22 268.07,424.00C268.38,423.78 268.74,423.51 268.91,423.40C269.08,423.29 268.99,423.40 269.01,423.40Z" fill="#4daf4a" stroke="#0a0a0a" stroke-width="0.65" stroke-linejoin="round"/>
<path d="M280.24,421.70V443.00" stroke="#444" stroke-width="0.9" fill="none"/>
<path d="M280.29,422.80C280.52,422.90 281.16,423.16 281.56,423.36C281.97,423.56 282.22,423.71 282.54,423.91C282.86,424.11 283.09,424.27 283.35,424.47C283.61,424.67 283.79,424.83 283.99,425.03C284.19,425.23 284.32,425.39 284.46,425.59C284.59,425.79 284.68,425.94 284.74,426.14C284.81,426.34 284.85,426.47 284.84,426.70C284.83,426.93 284.80,427.18 284.70,427.44C284.61,427.71 284.49,427.92 284.31,428.19C284.13,428.45 283.95,428.66 283.69,428.93C283.44,429.20 283.21,429.40 282.91,429.67C282.61,429.94 282.35,430.15 282.03,430.41C281.72,430.68 281.44,430.89 281.16,431.16C280.88,431.42 280.61,430.13 280.49,431.90C280.37,433.67 280.44,439.24 280.49,441.00C280.54,442.76 280.63,441.49 280.76,441.70C280.90,441.91 281.11,442.06 281.24,442.19C281.37,442.32 281.89,442.36 281.49,442.40C281.09,442.44 279.39,442.44 278.99,442.40C278.59,442.36 279.11,442.32 279.24,442.19C279.37,442.06 279.58,441.91 279.72,441.70C279.85,441.49 279.94,442.76 279.99,441.00C280.04,439.24 280.11,433.67 279.99,431.90C279.87,430.13 279.60,431.42 279.32,431.16C279.04,430.89 278.76,430.68 278.45,430.41C278.13,430.15 277.87,429.94 277.57,429.67C277.27,429.40 277.04,429.20 276.79,428.93C276.53,428.66 276.35,428.45 276.17,428.19C275.99,427.92 275.87,427.71 275.78,427.44C275.68,427.18 275.65,426.93 275.64,426.70C275.63,426.47 275.67,426.34 275.74,426.14C275.80,425.94 275.89,425.79 276.02,425.59C276.16,425.39 276.29,425.23 276.49,425.03C276.69,424.83 276.87,424.67 277.13,424.47C277.39,424.27 277.62,424.11 277.94,423.91C278.26,423.71 278.51,423.56 278.92,423.36C279.32,423.16 279.94,422.90 280.19,422.80C280.44,422.70 280.27,422.80 280.29,422.80Z" fill="#9150b0" stroke="#0a0a0a" stroke-width="0.65" stroke-linejoin="round"/>
<path d="M291.52,421.70V443.00" stroke="#444" stroke-width="0.9" fill="none"/>
<path d="M291.57,422.50C291.63,422.67 291.69,423.11 291.88,423.46C292.08,423.80 292.35,424.07 292.67,424.41C292.99,424.76 293.30,425.03 293.67,425.37C294.03,425.72 294.35,425.98 294.69,426.33C295.04,426.67 295.31,426.94 295.57,427.29C295.84,427.63 296.02,427.90 296.16,428.24C296.31,428.59 296.37,428.85 296.37,429.20C296.37,429.55 296.30,429.82 296.14,430.17C295.99,430.52 295.78,430.79 295.50,431.14C295.22,431.49 294.93,431.76 294.58,432.11C294.23,432.46 293.91,432.74 293.56,433.09C293.21,433.44 292.92,433.71 292.64,434.06C292.36,434.41 292.15,434.68 292.00,435.03C291.84,435.38 291.81,434.93 291.77,436.00C291.73,437.07 291.70,439.97 291.77,441.00C291.84,442.03 291.98,441.49 292.15,441.70C292.32,441.91 292.56,442.06 292.72,442.19C292.88,442.32 293.51,442.36 293.02,442.40C292.53,442.44 290.51,442.44 290.02,442.40C289.53,442.36 290.16,442.32 290.32,442.19C290.48,442.06 290.72,441.91 290.89,441.70C291.06,441.49 291.20,442.03 291.27,441.00C291.34,439.97 291.31,437.07 291.27,436.00C291.23,434.93 291.20,435.38 291.04,435.03C290.89,434.68 290.68,434.41 290.40,434.06C290.12,433.71 289.83,433.44 289.48,433.09C289.13,432.74 288.81,432.46 288.46,432.11C288.11,431.76 287.82,431.49 287.54,431.14C287.26,430.79 287.05,430.52 286.90,430.17C286.74,429.82 286.67,429.55 286.67,429.20C286.67,428.85 286.73,428.59 286.88,428.24C287.02,427.90 287.20,427.63 287.47,427.29C287.73,426.94 288.00,426.67 288.35,426.33C288.69,425.98 289.01,425.72 289.37,425.37C289.74,425.03 290.05,424.76 290.37,424.41C290.69,424.07 290.96,423.80 291.16,423.46C291.35,423.11 291.40,422.67 291.47,422.50C291.54,422.33 291.55,422.50 291.57,422.50Z" fill="#f29403" stroke="#0a0a0a" stroke-width="0.65" stroke-linejoin="round"/>
<path d="M302.80,424.20V443.00" stroke="#444" stroke-width="0.9" fill="none"/>
<path d="M302.85,424.60C302.89,424.76 302.91,425.19 303.08,425.51C303.26,425.84 303.50,426.10 303.80,426.43C304.11,426.76 304.42,427.01 304.79,427.34C305.16,427.67 305.49,427.93 305.85,428.26C306.21,428.59 306.50,428.84 306.78,429.17C307.07,429.50 307.27,429.76 307.42,430.09C307.58,430.41 307.65,430.67 307.65,431.00C307.65,431.33 307.58,431.60 307.42,431.94C307.27,432.28 307.06,432.55 306.78,432.89C306.50,433.23 306.21,433.49 305.86,433.83C305.51,434.17 305.19,434.43 304.84,434.77C304.49,435.11 304.20,435.37 303.92,435.71C303.64,436.05 303.43,436.32 303.28,436.66C303.12,437.00 303.09,436.82 303.05,437.60C303.01,438.38 302.96,440.26 303.05,441.00C303.14,441.74 303.33,441.49 303.54,441.70C303.74,441.91 304.02,442.06 304.20,442.19C304.38,442.32 305.12,442.36 304.55,442.40C303.98,442.44 301.62,442.44 301.05,442.40C300.48,442.36 301.22,442.32 301.40,442.19C301.58,442.06 301.86,441.91 302.06,441.70C302.27,441.49 302.46,441.74 302.55,441.00C302.64,440.26 302.59,438.38 302.55,437.60C302.51,436.82 302.48,437.00 302.32,436.66C302.17,436.32 301.96,436.05 301.68,435.71C301.40,435.37 301.11,435.11 300.76,434.77C300.41,434.43 300.09,434.17 299.74,433.83C299.39,433.49 299.10,433.23 298.82,432.89C298.54,432.55 298.33,432.28 298.18,431.94C298.02,431.60 297.95,431.33 297.95,431.00C297.95,430.67 298.02,430.41 298.18,430.09C298.33,429.76 298.53,429.50 298.82,429.17C299.10,428.84 299.39,428.59 299.75,428.26C300.11,427.93 300.44,427.67 300.81,427.34C301.18,427.01 301.49,426.76 301.80,426.43C302.10,426.10 302.34,425.84 302.52,425.51C302.69,425.19 302.69,424.76 302.75,424.60C302.81,424.44 302.83,424.60 302.85,424.60Z" fill="#f781bf" stroke="#0a0a0a" stroke-width="0.65" stroke-linejoin="round"/>
<path d="M314.08,418.40V443.00" stroke="#444" stroke-width="0.9" fill="none"/>
<path d="M314.13,424.20C314.17,424.37 314.20,424.82 314.37,425.17C314.55,425.52 314.80,425.79 315.11,426.14C315.43,426.49 315.75,426.76 316.13,427.11C316.51,427.46 316.85,427.74 317.22,428.09C317.59,428.44 317.89,428.71 318.19,429.06C318.48,429.41 318.69,429.68 318.85,430.03C319.01,430.38 319.08,430.63 319.08,431.00C319.08,431.37 319.01,431.68 318.84,432.06C318.68,432.44 318.48,432.73 318.19,433.11C317.90,433.49 317.60,433.79 317.23,434.17C316.87,434.55 316.54,434.85 316.18,435.23C315.81,435.61 315.51,435.91 315.22,436.29C314.93,436.67 314.73,436.96 314.57,437.34C314.40,437.72 314.37,437.74 314.33,438.40C314.29,439.06 314.24,440.41 314.33,441.00C314.42,441.59 314.61,441.49 314.81,441.70C315.02,441.91 315.30,442.06 315.48,442.19C315.66,442.32 316.40,442.36 315.83,442.40C315.26,442.44 312.90,442.44 312.33,442.40C311.76,442.36 312.50,442.32 312.68,442.19C312.86,442.06 313.14,441.91 313.34,441.70C313.55,441.49 313.74,441.59 313.83,441.00C313.92,440.41 313.87,439.06 313.83,438.40C313.79,437.74 313.76,437.72 313.59,437.34C313.43,436.96 313.23,436.67 312.94,436.29C312.65,435.91 312.35,435.61 311.98,435.23C311.62,434.85 311.29,434.55 310.93,434.17C310.56,433.79 310.26,433.49 309.97,433.11C309.68,432.73 309.48,432.44 309.32,432.06C309.15,431.68 309.08,431.37 309.08,431.00C309.08,430.63 309.15,430.38 309.31,430.03C309.47,429.68 309.68,429.41 309.97,429.06C310.27,428.71 310.57,428.44 310.94,428.09C311.31,427.74 311.65,427.46 312.03,427.11C312.41,426.76 312.73,426.49 313.05,426.14C313.36,425.79 313.61,425.52 313.79,425.17C313.96,424.82 313.97,424.37 314.03,424.20C314.09,424.03 314.11,424.20 314.13,424.20Z" fill="#b99dd0" stroke="#0a0a0a" stroke-width="0.65" stroke-linejoin="round"/>
<path d="M325.36,424.20V443.00" stroke="#444" stroke-width="0.9" fill="none"/>
<path d="M325.66,441.90C326.43,441.94 329.19,442.01 329.96,442.10C330.73,442.19 331.62,442.35 329.96,442.40C328.30,442.45 322.42,442.45 320.76,442.40C319.10,442.35 319.99,442.19 320.76,442.10C321.53,442.01 324.18,441.94 325.06,441.90C325.94,441.86 325.55,441.90 325.66,441.90Z" fill="#a65628" stroke="#0a0a0a" stroke-width="0.65" stroke-linejoin="round"/>
<path d="M336.64,416.70V443.00" stroke="#444" stroke-width="0.9" fill="none"/>
<path d="M336.69,421.70C336.79,421.85 336.98,422.24 337.25,422.54C337.52,422.85 337.83,423.08 338.17,423.39C338.52,423.69 338.82,423.93 339.17,424.23C339.51,424.53 339.79,424.77 340.09,425.07C340.39,425.37 340.62,425.61 340.84,425.91C341.06,426.22 341.21,426.45 341.32,426.76C341.44,427.06 341.49,427.26 341.49,427.60C341.49,427.94 341.44,428.28 341.32,428.66C341.20,429.04 341.06,429.33 340.83,429.71C340.61,430.09 340.39,430.39 340.09,430.77C339.79,431.15 339.52,431.45 339.18,431.83C338.85,432.21 338.56,432.51 338.23,432.89C337.91,433.27 337.63,433.56 337.39,433.94C337.15,434.32 336.98,433.73 336.89,435.00C336.80,436.27 336.80,439.79 336.89,441.00C336.98,442.21 337.17,441.49 337.38,441.70C337.58,441.91 337.86,442.06 338.04,442.19C338.22,442.32 338.96,442.36 338.39,442.40C337.82,442.44 335.46,442.44 334.89,442.40C334.32,442.36 335.06,442.32 335.24,442.19C335.42,442.06 335.70,441.91 335.90,441.70C336.11,441.49 336.30,442.21 336.39,441.00C336.48,439.79 336.48,436.27 336.39,435.00C336.30,433.73 336.13,434.32 335.89,433.94C335.65,433.56 335.37,433.27 335.05,432.89C334.72,432.51 334.43,432.21 334.10,431.83C333.76,431.45 333.49,431.15 333.19,430.77C332.89,430.39 332.67,430.09 332.45,429.71C332.22,429.33 332.08,429.04 331.96,428.66C331.84,428.28 331.79,427.94 331.79,427.60C331.79,427.26 331.84,427.06 331.96,426.76C332.07,426.45 332.22,426.22 332.44,425.91C332.66,425.61 332.89,425.37 333.19,425.07C333.49,424.77 333.77,424.53 334.11,424.23C334.46,423.93 334.76,423.69 335.11,423.39C335.45,423.08 335.76,422.85 336.03,422.54C336.30,422.24 336.47,421.85 336.59,421.70C336.71,421.55 336.67,421.70 336.69,421.70Z" fill="#4ca9e0" stroke="#0a0a0a" stroke-width="0.65" stroke-linejoin="round"/>
<path d="M246.40,450.00V476.30" stroke="#444" stroke-width="0.9" fill="none"/>
<path d="M257.68,461.00V476.30" stroke="#444" stroke-width="0.9" fill="none"/>
<path d="M268.96,458.40V476.30" stroke="#444" stroke-width="0.9" fill="none"/>
<path d="M269.06,464.00C269.13,465.08 269.30,468.27 269.46,470.00C269.62,471.73 269.82,472.83 269.96,473.60C270.10,474.37 269.90,474.07 270.26,474.30C270.62,474.53 271.37,474.72 271.96,474.90C272.55,475.08 274.93,475.23 273.56,475.30C272.19,475.37 265.73,475.37 264.36,475.30C262.99,475.23 265.37,475.08 265.96,474.90C266.55,474.72 267.30,474.53 267.66,474.30C268.02,474.07 267.82,474.37 267.96,473.60C268.10,472.83 268.30,471.73 268.46,470.00C268.62,468.27 268.75,465.08 268.86,464.00C268.97,462.92 269.02,464.00 269.06,464.00Z" fill="#4daf4a" stroke="#0a0a0a" stroke-width="0.65" stroke-linejoin="round"/>
<path d="M280.24,462.60V476.30" stroke="#444" stroke-width="0.9" fill="none"/>
<path d="M280.34,466.00C280.47,466.72 280.73,468.67 281.04,470.00C281.35,471.33 281.82,472.63 282.04,473.40C282.26,474.17 281.99,474.03 282.24,474.30C282.49,474.57 282.97,474.72 283.44,474.90C283.91,475.08 286.24,475.23 284.84,475.30C283.44,475.37 277.04,475.37 275.64,475.30C274.24,475.23 276.57,475.08 277.04,474.90C277.51,474.72 277.99,474.57 278.24,474.30C278.49,474.03 278.22,474.17 278.44,473.40C278.66,472.63 279.13,471.33 279.44,470.00C279.75,468.67 279.98,466.72 280.14,466.00C280.30,465.28 280.30,466.00 280.34,466.00Z" fill="#9150b0" stroke="#0a0a0a" stroke-width="0.65" stroke-linejoin="round"/>
<path d="M291.52,455.00V476.30" stroke="#444" stroke-width="0.9" fill="none"/>
<path d="M302.80,465.00V476.30" stroke="#444" stroke-width="0.9" fill="none"/>
<path d="M314.08,454.20V476.30" stroke="#444" stroke-width="0.9" fill="none"/>
<path d="M314.18,462.00C314.25,462.90 314.38,465.38 314.58,467.00C314.78,468.62 315.03,469.87 315.28,471.00C315.53,472.13 315.82,472.71 315.98,473.30C316.14,473.89 315.95,474.03 316.18,474.30C316.41,474.57 316.87,474.62 317.28,474.80C317.69,474.98 319.85,475.21 318.48,475.30C317.11,475.39 311.05,475.39 309.68,475.30C308.31,475.21 310.47,474.98 310.88,474.80C311.29,474.62 311.75,474.57 311.98,474.30C312.21,474.03 312.02,473.89 312.18,473.30C312.34,472.71 312.63,472.13 312.88,471.00C313.13,469.87 313.38,468.62 313.58,467.00C313.78,465.38 313.87,462.90 313.98,462.00C314.09,461.10 314.14,462.00 314.18,462.00Z" fill="#b99dd0" stroke="#0a0a0a" stroke-width="0.65" stroke-linejoin="round"/>
<path d="M336.64,464.20V476.30" stroke="#444" stroke-width="0.9" fill="none"/>
<path d="M246.40,481.70V511.10" stroke="#444" stroke-width="0.9" fill="none"/>
<path d="M246.52,487.00C246.71,488.08 247.15,491.29 247.60,493.00C248.05,494.71 248.54,495.38 249.00,496.50C249.46,497.62 250.02,498.30 250.15,499.20C250.28,500.10 250.09,500.64 249.70,501.50C249.31,502.36 248.50,503.19 248.00,504.00C247.50,504.81 247.10,505.24 246.90,506.00C246.70,506.76 246.52,507.66 246.90,508.20C247.28,508.74 248.26,508.59 249.00,509.00C249.74,509.41 252.30,510.23 251.00,510.50C249.70,510.77 243.10,510.77 241.80,510.50C240.50,510.23 243.06,509.41 243.80,509.00C244.54,508.59 245.52,508.74 245.90,508.20C246.28,507.66 246.10,506.76 245.90,506.00C245.70,505.24 245.30,504.81 244.80,504.00C244.30,503.19 243.49,502.36 243.10,501.50C242.71,500.64 242.52,500.10 242.65,499.20C242.78,498.30 243.34,497.62 243.80,496.50C244.26,495.38 244.75,494.71 245.20,493.00C245.65,491.29 246.04,488.08 246.28,487.00C246.52,485.92 246.48,487.00 246.52,487.00Z" fill="#e41a1c" stroke="#0a0a0a" stroke-width="0.65" stroke-linejoin="round"/>
<path d="M257.68,487.50V511.10" stroke="#444" stroke-width="0.9" fill="none"/>
<path d="M257.80,490.00C258.01,490.90 258.48,493.47 258.98,495.00C259.48,496.53 260.09,497.42 260.58,498.50C261.07,499.58 261.63,500.19 261.68,501.00C261.73,501.81 261.37,502.28 260.88,503.00C260.39,503.72 259.47,504.39 258.98,505.00C258.49,505.61 258.32,505.82 258.18,506.40C258.04,506.98 257.80,507.73 258.18,508.20C258.56,508.67 259.54,508.59 260.28,509.00C261.02,509.41 263.58,510.23 262.28,510.50C260.98,510.77 254.38,510.77 253.08,510.50C251.78,510.23 254.34,509.41 255.08,509.00C255.82,508.59 256.80,508.67 257.18,508.20C257.56,507.73 257.32,506.98 257.18,506.40C257.04,505.82 256.87,505.61 256.38,505.00C255.89,504.39 254.97,503.72 254.48,503.00C253.99,502.28 253.63,501.81 253.68,501.00C253.73,500.19 254.29,499.58 254.78,498.50C255.27,497.42 255.88,496.53 256.38,495.00C256.88,493.47 257.30,490.90 257.56,490.00C257.82,489.10 257.76,490.00 257.80,490.00Z" fill="#377eb8" stroke="#0a0a0a" stroke-width="0.65" stroke-linejoin="round"/>
<path d="M268.96,484.20V511.10" stroke="#444" stroke-width="0.9" fill="none"/>
<path d="M269.01,486.50C269.07,486.68 269.13,487.15 269.35,487.51C269.56,487.88 269.84,488.16 270.18,488.53C270.52,488.89 270.85,489.18 271.24,489.54C271.63,489.91 271.96,490.19 272.33,490.56C272.69,490.92 272.98,491.21 273.26,491.57C273.54,491.94 273.74,492.22 273.89,492.59C274.04,492.95 274.11,493.13 274.11,493.60C274.11,494.07 274.05,494.61 273.90,495.17C273.76,495.74 273.58,496.18 273.31,496.74C273.05,497.31 272.78,497.75 272.43,498.31C272.09,498.88 271.77,499.32 271.41,499.89C271.04,500.45 270.73,500.89 270.41,501.46C270.09,502.02 269.83,502.46 269.62,503.03C269.42,503.59 269.33,503.51 269.26,504.60C269.19,505.69 269.22,508.16 269.26,509.10C269.30,510.04 269.36,509.59 269.48,509.80C269.61,510.01 269.83,510.16 269.96,510.29C270.09,510.42 270.61,510.46 270.21,510.50C269.81,510.54 268.11,510.54 267.71,510.50C267.31,510.46 267.83,510.42 267.96,510.29C268.09,510.16 268.31,510.01 268.44,509.80C268.56,509.59 268.62,510.04 268.66,509.10C268.70,508.16 268.73,505.69 268.66,504.60C268.59,503.51 268.50,503.59 268.30,503.03C268.09,502.46 267.83,502.02 267.51,501.46C267.19,500.89 266.88,500.45 266.51,499.89C266.15,499.32 265.83,498.88 265.49,498.31C265.14,497.75 264.87,497.31 264.61,496.74C264.34,496.18 264.16,495.74 264.02,495.17C263.87,494.61 263.81,494.07 263.81,493.60C263.81,493.13 263.88,492.95 264.03,492.59C264.18,492.22 264.38,491.94 264.66,491.57C264.94,491.21 265.23,490.92 265.59,490.56C265.96,490.19 266.29,489.91 266.68,489.54C267.07,489.18 267.40,488.89 267.74,488.53C268.08,488.16 268.36,487.88 268.57,487.51C268.79,487.15 268.83,486.68 268.91,486.50C268.99,486.32 268.99,486.50 269.01,486.50Z" fill="#4daf4a" stroke="#0a0a0a" stroke-width="0.65" stroke-linejoin="round"/>
<path d="M280.24,490.00V511.10" stroke="#444" stroke-width="0.9" fill="none"/>
<path d="M280.29,490.40C280.35,490.60 280.41,491.09 280.63,491.49C280.84,491.88 281.12,492.18 281.46,492.57C281.80,492.96 282.13,493.27 282.52,493.66C282.91,494.05 283.24,494.35 283.61,494.74C283.97,495.13 284.26,495.44 284.54,495.83C284.82,496.22 285.02,496.52 285.17,496.91C285.32,497.31 285.39,497.57 285.39,498.00C285.39,498.43 285.33,498.84 285.18,499.31C285.04,499.79 284.86,500.16 284.59,500.63C284.33,501.10 284.06,501.47 283.71,501.94C283.37,502.42 283.05,502.78 282.69,503.26C282.32,503.73 282.01,504.10 281.69,504.57C281.37,505.04 281.11,505.41 280.90,505.89C280.70,506.36 280.61,506.62 280.54,507.20C280.47,507.78 280.50,508.63 280.54,509.10C280.58,509.57 280.64,509.59 280.76,509.80C280.89,510.01 281.11,510.16 281.24,510.29C281.37,510.42 281.89,510.46 281.49,510.50C281.09,510.54 279.39,510.54 278.99,510.50C278.59,510.46 279.11,510.42 279.24,510.29C279.37,510.16 279.59,510.01 279.72,509.80C279.84,509.59 279.90,509.57 279.94,509.10C279.98,508.63 280.01,507.78 279.94,507.20C279.87,506.62 279.78,506.36 279.58,505.89C279.37,505.41 279.11,505.04 278.79,504.57C278.47,504.10 278.16,503.73 277.79,503.26C277.43,502.78 277.11,502.42 276.77,501.94C276.42,501.47 276.15,501.10 275.89,500.63C275.62,500.16 275.44,499.79 275.30,499.31C275.15,498.84 275.09,498.43 275.09,498.00C275.09,497.57 275.16,497.31 275.31,496.91C275.46,496.52 275.66,496.22 275.94,495.83C276.22,495.44 276.51,495.13 276.87,494.74C277.24,494.35 277.57,494.05 277.96,493.66C278.35,493.27 278.68,492.96 279.02,492.57C279.36,492.18 279.64,491.88 279.85,491.49C280.07,491.09 280.11,490.60 280.19,490.40C280.27,490.20 280.27,490.40 280.29,490.40Z" fill="#9150b0" stroke="#0a0a0a" stroke-width="0.65" stroke-linejoin="round"/>
<path d="M291.52,487.50V511.10" stroke="#444" stroke-width="0.9" fill="none"/>
<path d="M291.64,494.00C291.78,494.72 292.12,496.74 292.42,498.00C292.72,499.26 293.25,500.10 293.32,501.00C293.39,501.90 293.06,502.28 292.82,503.00C292.58,503.72 292.12,504.06 291.97,505.00C291.82,505.94 291.58,507.48 291.97,508.20C292.36,508.92 293.37,508.59 294.12,509.00C294.87,509.41 297.42,510.23 296.12,510.50C294.82,510.77 288.22,510.77 286.92,510.50C285.62,510.23 288.17,509.41 288.92,509.00C289.67,508.59 290.68,508.92 291.07,508.20C291.46,507.48 291.22,505.94 291.07,505.00C290.92,504.06 290.46,503.72 290.22,503.00C289.98,502.28 289.65,501.90 289.72,501.00C289.79,500.10 290.32,499.26 290.62,498.00C290.92,496.74 291.22,494.72 291.40,494.00C291.58,493.28 291.60,494.00 291.64,494.00Z" fill="#f29403" stroke="#0a0a0a" stroke-width="0.65" stroke-linejoin="round"/>
<path d="M302.80,489.20V511.10" stroke="#444" stroke-width="0.9" fill="none"/>
<path d="M302.92,494.00C303.11,494.72 303.61,496.74 304.00,498.00C304.39,499.26 305.01,500.05 305.10,501.00C305.19,501.95 304.82,502.47 304.50,503.30C304.18,504.13 303.52,504.72 303.30,505.60C303.08,506.48 302.92,507.59 303.30,508.20C303.68,508.81 304.66,508.59 305.40,509.00C306.14,509.41 308.70,510.23 307.40,510.50C306.10,510.77 299.50,510.77 298.20,510.50C296.90,510.23 299.46,509.41 300.20,509.00C300.94,508.59 301.92,508.81 302.30,508.20C302.68,507.59 302.52,506.48 302.30,505.60C302.08,504.72 301.42,504.13 301.10,503.30C300.78,502.47 300.41,501.95 300.50,501.00C300.59,500.05 301.21,499.26 301.60,498.00C301.99,496.74 302.44,494.72 302.68,494.00C302.92,493.28 302.88,494.00 302.92,494.00Z" fill="#f781bf" stroke="#0a0a0a" stroke-width="0.65" stroke-linejoin="round"/>
<path d="M314.08,484.20V511.10" stroke="#444" stroke-width="0.9" fill="none"/>
<path d="M314.20,491.00C314.45,491.72 314.95,493.74 315.58,495.00C316.21,496.26 317.08,496.92 317.68,498.00C318.28,499.08 318.84,500.01 318.93,501.00C319.02,501.99 318.53,502.60 318.18,503.50C317.83,504.40 317.20,505.28 316.98,506.00C316.76,506.72 316.89,506.69 316.98,507.50C317.07,508.31 318.61,509.96 317.48,510.50C316.35,511.04 311.81,511.04 310.68,510.50C309.55,509.96 311.09,508.31 311.18,507.50C311.27,506.69 311.40,506.72 311.18,506.00C310.96,505.28 310.33,504.40 309.98,503.50C309.63,502.60 309.14,501.99 309.23,501.00C309.32,500.01 309.88,499.08 310.48,498.00C311.08,496.92 311.95,496.26 312.58,495.00C313.21,493.74 313.67,491.72 313.96,491.00C314.25,490.28 314.16,491.00 314.20,491.00Z" fill="#b99dd0" stroke="#0a0a0a" stroke-width="0.65" stroke-linejoin="round"/>
<path d="M325.36,493.40V511.10" stroke="#444" stroke-width="0.9" fill="none"/>
<path d="M325.66,510.00C326.43,510.04 329.19,510.11 329.96,510.20C330.73,510.29 331.62,510.45 329.96,510.50C328.30,510.55 322.42,510.55 320.76,510.50C319.10,510.45 319.99,510.29 320.76,510.20C321.53,510.11 324.18,510.04 325.06,510.00C325.94,509.96 325.55,510.00 325.66,510.00Z" fill="#a65628" stroke="#0a0a0a" stroke-width="0.65" stroke-linejoin="round"/>
<path d="M336.64,486.70V511.10" stroke="#444" stroke-width="0.9" fill="none"/>
<path d="M336.76,493.00C337.01,493.72 337.62,495.83 338.14,497.00C338.66,498.17 339.24,498.78 339.64,499.50C340.04,500.22 340.41,500.37 340.39,501.00C340.37,501.63 340.02,502.28 339.54,503.00C339.06,503.72 338.15,504.42 337.74,505.00C337.33,505.58 337.26,505.66 337.24,506.20C337.22,506.74 337.10,507.50 337.64,508.00C338.18,508.50 339.52,508.55 340.24,509.00C340.96,509.45 343.19,510.23 341.64,510.50C340.09,510.77 333.19,510.77 331.64,510.50C330.09,510.23 332.32,509.45 333.04,509.00C333.76,508.55 335.10,508.50 335.64,508.00C336.18,507.50 336.06,506.74 336.04,506.20C336.02,505.66 335.95,505.58 335.54,505.00C335.13,504.42 334.22,503.72 333.74,503.00C333.26,502.28 332.91,501.63 332.89,501.00C332.87,500.37 333.24,500.22 333.64,499.50C334.04,498.78 334.62,498.17 335.14,497.00C335.66,495.83 336.23,493.72 336.52,493.00C336.81,492.28 336.72,493.00 336.76,493.00Z" fill="#4ca9e0" stroke="#0a0a0a" stroke-width="0.65" stroke-linejoin="round"/>
<path d="M239.4,408.4H342.3" stroke="#939393" stroke-width="2.1" fill="none"/>
<path d="M239.4,443.0H342.3" stroke="#484848" stroke-width="1.2" fill="none"/>
<path d="M239.4,476.3H342.3" stroke="#939393" stroke-width="2.1" fill="none"/>
<path d="M239.4,511.1H342.3" stroke="#484848" stroke-width="1.2" fill="none"/>
<path d="M240.1,375.8V511.70000000000005" stroke="#5c5c5c" stroke-width="1.1" fill="none"/>
<text x="235.3" y="377.20" font-size="2.3" text-anchor="end">LGALS9</text>
<text x="238.3" y="377.10" font-size="1.8" text-anchor="end" fill="#444">4</text>
<text x="235.3" y="411.20" font-size="2.3" text-anchor="end">PTPRC</text>
<text x="238.3" y="411.10" font-size="1.8" text-anchor="end" fill="#444">4</text>
<text x="235.3" y="445.80" font-size="2.3" text-anchor="end">HAVCR2</text>
<text x="238.3" y="445.70" font-size="1.8" text-anchor="end" fill="#444">4</text>
<text x="235.3" y="479.10" font-size="2.3" text-anchor="end">CD44</text>
<text x="238.3" y="479.00" font-size="1.8" text-anchor="end" fill="#444">4</text>
<path d="M246.40,511.70000000000005v2" stroke="#555" stroke-width="0.5"/>
<text x="247.15" y="514.4" font-size="2.25" text-anchor="end" style="fill:#484848" transform="rotate(-90 247.15 514.4)">CD4+ T</text>
<path d="M257.68,511.70000000000005v2" stroke="#555" stroke-width="0.5"/>
<text x="258.43" y="514.4" font-size="2.25" text-anchor="end" style="fill:#484848" transform="rotate(-90 258.43 514.4)">CD8+ T</text>
<path d="M268.96,511.70000000000005v2" stroke="#555" stroke-width="0.5"/>
<text x="269.71" y="514.4" font-size="2.25" text-anchor="end" style="fill:#484848" transform="rotate(-90 269.71 514.4)">CD14+ mono</text>
<path d="M280.24,511.70000000000005v2" stroke="#555" stroke-width="0.5"/>
<text x="280.99" y="514.4" font-size="2.25" text-anchor="end" style="fill:#484848" transform="rotate(-90 280.99 514.4)">FCGR3A+ mono</text>
<path d="M291.52,511.70000000000005v2" stroke="#555" stroke-width="0.5"/>
<text x="292.27" y="514.4" font-size="2.25" text-anchor="end" style="fill:#484848" transform="rotate(-90 292.27 514.4)">NK</text>
<path d="M302.80,511.70000000000005v2" stroke="#555" stroke-width="0.5"/>
<text x="303.55" y="514.4" font-size="2.25" text-anchor="end" style="fill:#484848" transform="rotate(-90 303.55 514.4)">B</text>
<path d="M314.08,511.70000000000005v2" stroke="#555" stroke-width="0.5"/>
<text x="314.83" y="514.4" font-size="2.25" text-anchor="end" style="fill:#484848" transform="rotate(-90 314.83 514.4)">DC</text>
<path d="M325.36,511.70000000000005v2" stroke="#555" stroke-width="0.5"/>
<text x="326.11" y="514.4" font-size="2.25" text-anchor="end" style="fill:#484848" transform="rotate(-90 326.11 514.4)">platelet</text>
<path d="M336.64,511.70000000000005v2" stroke="#555" stroke-width="0.5"/>
<text x="337.39" y="514.4" font-size="2.25" text-anchor="end" style="fill:#484848" transform="rotate(-90 337.39 514.4)">mixed</text>
<text class="gl" x="280.7" y="546.9" font-size="9.8">HC</text>
</g>
</g>
</svg></body></html>
